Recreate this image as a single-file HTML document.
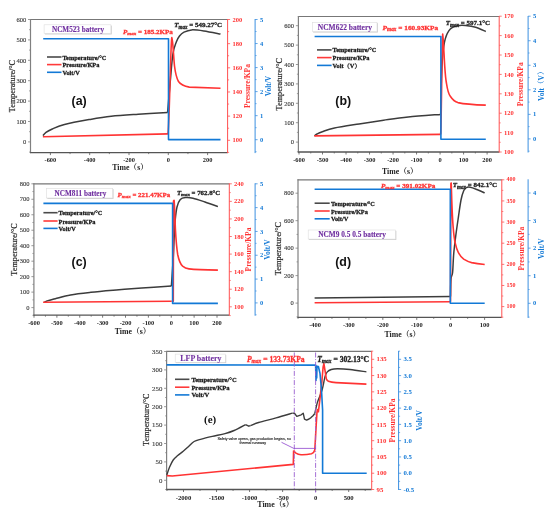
<!DOCTYPE html>
<html><head><meta charset="utf-8"><title>Battery thermal runaway</title>
<style>
html,body{margin:0;padding:0;background:#fff;}
body{width:550px;height:512px;overflow:hidden;}
svg{display:block;filter:blur(0.35px);}
</style></head>
<body>
<svg width="550" height="512" viewBox="0 0 550 512">
<rect x="0" y="0" width="550" height="512" fill="#fff"/>
<line x1="30" y1="19.5" x2="227.6" y2="19.5" stroke="#777" stroke-width="1.2"/>
<line x1="30.5" y1="19" x2="30.5" y2="153.1" stroke="#808080" stroke-width="1.2"/>
<line x1="30" y1="152.6" x2="227.6" y2="152.6" stroke="#555" stroke-width="1.3"/>
<line x1="227.6" y1="19" x2="227.6" y2="153.1" stroke="#ff5050" stroke-width="1"/>
<line x1="255.1" y1="19" x2="255.1" y2="153.1" stroke="#3b8fe0" stroke-width="1"/>
<line x1="28" y1="141.9" x2="30.5" y2="141.9" stroke="#808080" stroke-width="0.8"/>
<text x="26.2" y="141.6" font-size="6.5" fill="#444" text-anchor="end" font-weight="normal" font-family="'Liberation Serif', 'Noto Serif CJK SC', serif" font-style="normal" dominant-baseline="central" stroke="#444" stroke-width="0.15">0</text>
<line x1="28" y1="121.5" x2="30.5" y2="121.5" stroke="#808080" stroke-width="0.8"/>
<text x="26.2" y="121.2" font-size="6.5" fill="#444" text-anchor="end" font-weight="normal" font-family="'Liberation Serif', 'Noto Serif CJK SC', serif" font-style="normal" dominant-baseline="central" stroke="#444" stroke-width="0.15">100</text>
<line x1="28" y1="101.1" x2="30.5" y2="101.1" stroke="#808080" stroke-width="0.8"/>
<text x="26.2" y="100.8" font-size="6.5" fill="#444" text-anchor="end" font-weight="normal" font-family="'Liberation Serif', 'Noto Serif CJK SC', serif" font-style="normal" dominant-baseline="central" stroke="#444" stroke-width="0.15">200</text>
<line x1="28" y1="80.7" x2="30.5" y2="80.7" stroke="#808080" stroke-width="0.8"/>
<text x="26.2" y="80.4" font-size="6.5" fill="#444" text-anchor="end" font-weight="normal" font-family="'Liberation Serif', 'Noto Serif CJK SC', serif" font-style="normal" dominant-baseline="central" stroke="#444" stroke-width="0.15">300</text>
<line x1="28" y1="60.3" x2="30.5" y2="60.3" stroke="#808080" stroke-width="0.8"/>
<text x="26.2" y="60" font-size="6.5" fill="#444" text-anchor="end" font-weight="normal" font-family="'Liberation Serif', 'Noto Serif CJK SC', serif" font-style="normal" dominant-baseline="central" stroke="#444" stroke-width="0.15">400</text>
<line x1="28" y1="39.9" x2="30.5" y2="39.9" stroke="#808080" stroke-width="0.8"/>
<text x="26.2" y="39.6" font-size="6.5" fill="#444" text-anchor="end" font-weight="normal" font-family="'Liberation Serif', 'Noto Serif CJK SC', serif" font-style="normal" dominant-baseline="central" stroke="#444" stroke-width="0.15">500</text>
<line x1="28" y1="19.5" x2="30.5" y2="19.5" stroke="#808080" stroke-width="0.8"/>
<text x="26.2" y="19.2" font-size="6.5" fill="#444" text-anchor="end" font-weight="normal" font-family="'Liberation Serif', 'Noto Serif CJK SC', serif" font-style="normal" dominant-baseline="central" stroke="#444" stroke-width="0.15">600</text>
<line x1="29" y1="131.7" x2="30.5" y2="131.7" stroke="#808080" stroke-width="0.7"/>
<line x1="29" y1="111.3" x2="30.5" y2="111.3" stroke="#808080" stroke-width="0.7"/>
<line x1="29" y1="90.9" x2="30.5" y2="90.9" stroke="#808080" stroke-width="0.7"/>
<line x1="29" y1="70.5" x2="30.5" y2="70.5" stroke="#808080" stroke-width="0.7"/>
<line x1="29" y1="50.1" x2="30.5" y2="50.1" stroke="#808080" stroke-width="0.7"/>
<line x1="29" y1="29.7" x2="30.5" y2="29.7" stroke="#808080" stroke-width="0.7"/>
<line x1="29" y1="152.1" x2="30.5" y2="152.1" stroke="#808080" stroke-width="0.7"/>
<line x1="50.4" y1="152.6" x2="50.4" y2="155.1" stroke="#555" stroke-width="0.8"/>
<text x="50.4" y="159.9" font-size="6.4" fill="#222" text-anchor="middle" font-weight="bold" font-family="'Liberation Serif', 'Noto Serif CJK SC', serif" font-style="normal" dominant-baseline="central">-600</text>
<line x1="89.7" y1="152.6" x2="89.7" y2="155.1" stroke="#555" stroke-width="0.8"/>
<text x="89.7" y="159.9" font-size="6.4" fill="#222" text-anchor="middle" font-weight="bold" font-family="'Liberation Serif', 'Noto Serif CJK SC', serif" font-style="normal" dominant-baseline="central">-400</text>
<line x1="129" y1="152.6" x2="129" y2="155.1" stroke="#555" stroke-width="0.8"/>
<text x="129" y="159.9" font-size="6.4" fill="#222" text-anchor="middle" font-weight="bold" font-family="'Liberation Serif', 'Noto Serif CJK SC', serif" font-style="normal" dominant-baseline="central">-200</text>
<line x1="168.3" y1="152.6" x2="168.3" y2="155.1" stroke="#555" stroke-width="0.8"/>
<text x="168.3" y="159.9" font-size="6.4" fill="#222" text-anchor="middle" font-weight="bold" font-family="'Liberation Serif', 'Noto Serif CJK SC', serif" font-style="normal" dominant-baseline="central">0</text>
<line x1="207.6" y1="152.6" x2="207.6" y2="155.1" stroke="#555" stroke-width="0.8"/>
<text x="207.6" y="159.9" font-size="6.4" fill="#222" text-anchor="middle" font-weight="bold" font-family="'Liberation Serif', 'Noto Serif CJK SC', serif" font-style="normal" dominant-baseline="central">200</text>
<line x1="70.05" y1="152.6" x2="70.05" y2="154.1" stroke="#555" stroke-width="0.7"/>
<line x1="109.35" y1="152.6" x2="109.35" y2="154.1" stroke="#555" stroke-width="0.7"/>
<line x1="148.65" y1="152.6" x2="148.65" y2="154.1" stroke="#555" stroke-width="0.7"/>
<line x1="187.95" y1="152.6" x2="187.95" y2="154.1" stroke="#555" stroke-width="0.7"/>
<line x1="227.6" y1="140.3" x2="230.1" y2="140.3" stroke="#ff5050" stroke-width="0.8"/>
<text x="232.4" y="139.9" font-size="6.5" fill="#ff3333" text-anchor="start" font-weight="bold" font-family="'Liberation Serif', 'Noto Serif CJK SC', serif" font-style="normal" dominant-baseline="central">100</text>
<line x1="227.6" y1="116.14" x2="230.1" y2="116.14" stroke="#ff5050" stroke-width="0.8"/>
<text x="232.4" y="115.74" font-size="6.5" fill="#ff3333" text-anchor="start" font-weight="bold" font-family="'Liberation Serif', 'Noto Serif CJK SC', serif" font-style="normal" dominant-baseline="central">120</text>
<line x1="227.6" y1="91.98" x2="230.1" y2="91.98" stroke="#ff5050" stroke-width="0.8"/>
<text x="232.4" y="91.58" font-size="6.5" fill="#ff3333" text-anchor="start" font-weight="bold" font-family="'Liberation Serif', 'Noto Serif CJK SC', serif" font-style="normal" dominant-baseline="central">140</text>
<line x1="227.6" y1="67.82" x2="230.1" y2="67.82" stroke="#ff5050" stroke-width="0.8"/>
<text x="232.4" y="67.42" font-size="6.5" fill="#ff3333" text-anchor="start" font-weight="bold" font-family="'Liberation Serif', 'Noto Serif CJK SC', serif" font-style="normal" dominant-baseline="central">160</text>
<line x1="227.6" y1="43.66" x2="230.1" y2="43.66" stroke="#ff5050" stroke-width="0.8"/>
<text x="232.4" y="43.26" font-size="6.5" fill="#ff3333" text-anchor="start" font-weight="bold" font-family="'Liberation Serif', 'Noto Serif CJK SC', serif" font-style="normal" dominant-baseline="central">180</text>
<line x1="227.6" y1="19.5" x2="230.1" y2="19.5" stroke="#ff5050" stroke-width="0.8"/>
<text x="232.4" y="19.1" font-size="6.5" fill="#ff3333" text-anchor="start" font-weight="bold" font-family="'Liberation Serif', 'Noto Serif CJK SC', serif" font-style="normal" dominant-baseline="central">200</text>
<line x1="227.6" y1="152.38" x2="229.1" y2="152.38" stroke="#ff5050" stroke-width="0.7"/>
<line x1="227.6" y1="128.22" x2="229.1" y2="128.22" stroke="#ff5050" stroke-width="0.7"/>
<line x1="227.6" y1="104.06" x2="229.1" y2="104.06" stroke="#ff5050" stroke-width="0.7"/>
<line x1="227.6" y1="79.9" x2="229.1" y2="79.9" stroke="#ff5050" stroke-width="0.7"/>
<line x1="227.6" y1="55.74" x2="229.1" y2="55.74" stroke="#ff5050" stroke-width="0.7"/>
<line x1="227.6" y1="31.58" x2="229.1" y2="31.58" stroke="#ff5050" stroke-width="0.7"/>
<line x1="255.1" y1="139.7" x2="257.6" y2="139.7" stroke="#3b8fe0" stroke-width="0.8"/>
<text x="259.9" y="139.3" font-size="6.5" fill="#1279d6" text-anchor="start" font-weight="bold" font-family="'Liberation Serif', 'Noto Serif CJK SC', serif" font-style="normal" dominant-baseline="central">0</text>
<line x1="255.1" y1="115.66" x2="257.6" y2="115.66" stroke="#3b8fe0" stroke-width="0.8"/>
<text x="259.9" y="115.26" font-size="6.5" fill="#1279d6" text-anchor="start" font-weight="bold" font-family="'Liberation Serif', 'Noto Serif CJK SC', serif" font-style="normal" dominant-baseline="central">1</text>
<line x1="255.1" y1="91.62" x2="257.6" y2="91.62" stroke="#3b8fe0" stroke-width="0.8"/>
<text x="259.9" y="91.22" font-size="6.5" fill="#1279d6" text-anchor="start" font-weight="bold" font-family="'Liberation Serif', 'Noto Serif CJK SC', serif" font-style="normal" dominant-baseline="central">2</text>
<line x1="255.1" y1="67.58" x2="257.6" y2="67.58" stroke="#3b8fe0" stroke-width="0.8"/>
<text x="259.9" y="67.18" font-size="6.5" fill="#1279d6" text-anchor="start" font-weight="bold" font-family="'Liberation Serif', 'Noto Serif CJK SC', serif" font-style="normal" dominant-baseline="central">3</text>
<line x1="255.1" y1="43.54" x2="257.6" y2="43.54" stroke="#3b8fe0" stroke-width="0.8"/>
<text x="259.9" y="43.14" font-size="6.5" fill="#1279d6" text-anchor="start" font-weight="bold" font-family="'Liberation Serif', 'Noto Serif CJK SC', serif" font-style="normal" dominant-baseline="central">4</text>
<line x1="255.1" y1="19.5" x2="257.6" y2="19.5" stroke="#3b8fe0" stroke-width="0.8"/>
<text x="259.9" y="19.1" font-size="6.5" fill="#1279d6" text-anchor="start" font-weight="bold" font-family="'Liberation Serif', 'Noto Serif CJK SC', serif" font-style="normal" dominant-baseline="central">5</text>
<line x1="255.1" y1="151.72" x2="256.6" y2="151.72" stroke="#3b8fe0" stroke-width="0.7"/>
<line x1="255.1" y1="127.68" x2="256.6" y2="127.68" stroke="#3b8fe0" stroke-width="0.7"/>
<line x1="255.1" y1="103.64" x2="256.6" y2="103.64" stroke="#3b8fe0" stroke-width="0.7"/>
<line x1="255.1" y1="79.6" x2="256.6" y2="79.6" stroke="#3b8fe0" stroke-width="0.7"/>
<line x1="255.1" y1="55.56" x2="256.6" y2="55.56" stroke="#3b8fe0" stroke-width="0.7"/>
<line x1="255.1" y1="31.52" x2="256.6" y2="31.52" stroke="#3b8fe0" stroke-width="0.7"/>
<text x="12.5" y="86.05" font-size="8.2" fill="#2a2a2a" text-anchor="middle" font-weight="normal" font-family="'Liberation Serif', 'Noto Serif CJK SC', serif" font-style="normal" dominant-baseline="central" transform="rotate(-90 12.5 86.05)" stroke="#2a2a2a" stroke-width="0.2">Temperature/°C</text>
<text x="247.5" y="86.05" font-size="7.5" fill="#ff3333" text-anchor="middle" font-weight="bold" font-family="'Liberation Serif', 'Noto Serif CJK SC', serif" font-style="normal" dominant-baseline="central" transform="rotate(-90 247.5 86.05)">Pressure/KPa</text>
<text x="268.5" y="86.05" font-size="7.5" fill="#1279d6" text-anchor="middle" font-weight="bold" font-family="'Liberation Serif', 'Noto Serif CJK SC', serif" font-style="normal" dominant-baseline="central" transform="rotate(-90 268.5 86.05)">Volt/V</text>
<text x="112.2" y="167.7" font-size="7.8" fill="#222" text-anchor="start" font-weight="bold" font-family="'Liberation Serif', 'Noto Serif CJK SC', serif" font-style="normal" dominant-baseline="central">Time（s）</text>
<line x1="297.9" y1="16.5" x2="499.2" y2="16.5" stroke="#777" stroke-width="1.2"/>
<line x1="298.4" y1="16" x2="298.4" y2="152.5" stroke="#808080" stroke-width="1.2"/>
<line x1="297.9" y1="152" x2="499.2" y2="152" stroke="#555" stroke-width="1.3"/>
<line x1="499.2" y1="16" x2="499.2" y2="152.5" stroke="#ff5050" stroke-width="1"/>
<line x1="528.1" y1="16" x2="528.1" y2="152.5" stroke="#3b8fe0" stroke-width="1"/>
<line x1="295.9" y1="142.1" x2="298.4" y2="142.1" stroke="#808080" stroke-width="0.8"/>
<text x="294.1" y="141.8" font-size="6.5" fill="#444" text-anchor="end" font-weight="normal" font-family="'Liberation Serif', 'Noto Serif CJK SC', serif" font-style="normal" dominant-baseline="central" stroke="#444" stroke-width="0.15">0</text>
<line x1="295.9" y1="122.7" x2="298.4" y2="122.7" stroke="#808080" stroke-width="0.8"/>
<text x="294.1" y="122.4" font-size="6.5" fill="#444" text-anchor="end" font-weight="normal" font-family="'Liberation Serif', 'Noto Serif CJK SC', serif" font-style="normal" dominant-baseline="central" stroke="#444" stroke-width="0.15">100</text>
<line x1="295.9" y1="103.3" x2="298.4" y2="103.3" stroke="#808080" stroke-width="0.8"/>
<text x="294.1" y="103" font-size="6.5" fill="#444" text-anchor="end" font-weight="normal" font-family="'Liberation Serif', 'Noto Serif CJK SC', serif" font-style="normal" dominant-baseline="central" stroke="#444" stroke-width="0.15">200</text>
<line x1="295.9" y1="83.9" x2="298.4" y2="83.9" stroke="#808080" stroke-width="0.8"/>
<text x="294.1" y="83.6" font-size="6.5" fill="#444" text-anchor="end" font-weight="normal" font-family="'Liberation Serif', 'Noto Serif CJK SC', serif" font-style="normal" dominant-baseline="central" stroke="#444" stroke-width="0.15">300</text>
<line x1="295.9" y1="64.5" x2="298.4" y2="64.5" stroke="#808080" stroke-width="0.8"/>
<text x="294.1" y="64.2" font-size="6.5" fill="#444" text-anchor="end" font-weight="normal" font-family="'Liberation Serif', 'Noto Serif CJK SC', serif" font-style="normal" dominant-baseline="central" stroke="#444" stroke-width="0.15">400</text>
<line x1="295.9" y1="45.1" x2="298.4" y2="45.1" stroke="#808080" stroke-width="0.8"/>
<text x="294.1" y="44.8" font-size="6.5" fill="#444" text-anchor="end" font-weight="normal" font-family="'Liberation Serif', 'Noto Serif CJK SC', serif" font-style="normal" dominant-baseline="central" stroke="#444" stroke-width="0.15">500</text>
<line x1="295.9" y1="25.7" x2="298.4" y2="25.7" stroke="#808080" stroke-width="0.8"/>
<text x="294.1" y="25.4" font-size="6.5" fill="#444" text-anchor="end" font-weight="normal" font-family="'Liberation Serif', 'Noto Serif CJK SC', serif" font-style="normal" dominant-baseline="central" stroke="#444" stroke-width="0.15">600</text>
<line x1="296.9" y1="151.8" x2="298.4" y2="151.8" stroke="#808080" stroke-width="0.7"/>
<line x1="296.9" y1="132.4" x2="298.4" y2="132.4" stroke="#808080" stroke-width="0.7"/>
<line x1="296.9" y1="113" x2="298.4" y2="113" stroke="#808080" stroke-width="0.7"/>
<line x1="296.9" y1="93.6" x2="298.4" y2="93.6" stroke="#808080" stroke-width="0.7"/>
<line x1="296.9" y1="74.2" x2="298.4" y2="74.2" stroke="#808080" stroke-width="0.7"/>
<line x1="296.9" y1="54.8" x2="298.4" y2="54.8" stroke="#808080" stroke-width="0.7"/>
<line x1="296.9" y1="35.4" x2="298.4" y2="35.4" stroke="#808080" stroke-width="0.7"/>
<line x1="299" y1="152" x2="299" y2="154.5" stroke="#555" stroke-width="0.8"/>
<text x="299" y="159.3" font-size="6.4" fill="#222" text-anchor="middle" font-weight="bold" font-family="'Liberation Serif', 'Noto Serif CJK SC', serif" font-style="normal" dominant-baseline="central">-600</text>
<line x1="322.51" y1="152" x2="322.51" y2="154.5" stroke="#555" stroke-width="0.8"/>
<text x="322.51" y="159.3" font-size="6.4" fill="#222" text-anchor="middle" font-weight="bold" font-family="'Liberation Serif', 'Noto Serif CJK SC', serif" font-style="normal" dominant-baseline="central">-500</text>
<line x1="346.02" y1="152" x2="346.02" y2="154.5" stroke="#555" stroke-width="0.8"/>
<text x="346.02" y="159.3" font-size="6.4" fill="#222" text-anchor="middle" font-weight="bold" font-family="'Liberation Serif', 'Noto Serif CJK SC', serif" font-style="normal" dominant-baseline="central">-400</text>
<line x1="369.54" y1="152" x2="369.54" y2="154.5" stroke="#555" stroke-width="0.8"/>
<text x="369.54" y="159.3" font-size="6.4" fill="#222" text-anchor="middle" font-weight="bold" font-family="'Liberation Serif', 'Noto Serif CJK SC', serif" font-style="normal" dominant-baseline="central">-300</text>
<line x1="393.05" y1="152" x2="393.05" y2="154.5" stroke="#555" stroke-width="0.8"/>
<text x="393.05" y="159.3" font-size="6.4" fill="#222" text-anchor="middle" font-weight="bold" font-family="'Liberation Serif', 'Noto Serif CJK SC', serif" font-style="normal" dominant-baseline="central">-200</text>
<line x1="416.56" y1="152" x2="416.56" y2="154.5" stroke="#555" stroke-width="0.8"/>
<text x="416.56" y="159.3" font-size="6.4" fill="#222" text-anchor="middle" font-weight="bold" font-family="'Liberation Serif', 'Noto Serif CJK SC', serif" font-style="normal" dominant-baseline="central">-100</text>
<line x1="440.08" y1="152" x2="440.08" y2="154.5" stroke="#555" stroke-width="0.8"/>
<text x="440.08" y="159.3" font-size="6.4" fill="#222" text-anchor="middle" font-weight="bold" font-family="'Liberation Serif', 'Noto Serif CJK SC', serif" font-style="normal" dominant-baseline="central">0</text>
<line x1="463.59" y1="152" x2="463.59" y2="154.5" stroke="#555" stroke-width="0.8"/>
<text x="463.59" y="159.3" font-size="6.4" fill="#222" text-anchor="middle" font-weight="bold" font-family="'Liberation Serif', 'Noto Serif CJK SC', serif" font-style="normal" dominant-baseline="central">100</text>
<line x1="487.1" y1="152" x2="487.1" y2="154.5" stroke="#555" stroke-width="0.8"/>
<text x="487.1" y="159.3" font-size="6.4" fill="#222" text-anchor="middle" font-weight="bold" font-family="'Liberation Serif', 'Noto Serif CJK SC', serif" font-style="normal" dominant-baseline="central">200</text>
<line x1="310.76" y1="152" x2="310.76" y2="153.5" stroke="#555" stroke-width="0.7"/>
<line x1="334.27" y1="152" x2="334.27" y2="153.5" stroke="#555" stroke-width="0.7"/>
<line x1="357.78" y1="152" x2="357.78" y2="153.5" stroke="#555" stroke-width="0.7"/>
<line x1="381.29" y1="152" x2="381.29" y2="153.5" stroke="#555" stroke-width="0.7"/>
<line x1="404.81" y1="152" x2="404.81" y2="153.5" stroke="#555" stroke-width="0.7"/>
<line x1="428.32" y1="152" x2="428.32" y2="153.5" stroke="#555" stroke-width="0.7"/>
<line x1="451.83" y1="152" x2="451.83" y2="153.5" stroke="#555" stroke-width="0.7"/>
<line x1="475.34" y1="152" x2="475.34" y2="153.5" stroke="#555" stroke-width="0.7"/>
<line x1="499.2" y1="152" x2="501.7" y2="152" stroke="#ff5050" stroke-width="0.8"/>
<text x="504" y="151.6" font-size="6.5" fill="#ff3333" text-anchor="start" font-weight="bold" font-family="'Liberation Serif', 'Noto Serif CJK SC', serif" font-style="normal" dominant-baseline="central">100</text>
<line x1="499.2" y1="132.6" x2="501.7" y2="132.6" stroke="#ff5050" stroke-width="0.8"/>
<text x="504" y="132.2" font-size="6.5" fill="#ff3333" text-anchor="start" font-weight="bold" font-family="'Liberation Serif', 'Noto Serif CJK SC', serif" font-style="normal" dominant-baseline="central">110</text>
<line x1="499.2" y1="113.2" x2="501.7" y2="113.2" stroke="#ff5050" stroke-width="0.8"/>
<text x="504" y="112.8" font-size="6.5" fill="#ff3333" text-anchor="start" font-weight="bold" font-family="'Liberation Serif', 'Noto Serif CJK SC', serif" font-style="normal" dominant-baseline="central">120</text>
<line x1="499.2" y1="93.8" x2="501.7" y2="93.8" stroke="#ff5050" stroke-width="0.8"/>
<text x="504" y="93.4" font-size="6.5" fill="#ff3333" text-anchor="start" font-weight="bold" font-family="'Liberation Serif', 'Noto Serif CJK SC', serif" font-style="normal" dominant-baseline="central">130</text>
<line x1="499.2" y1="74.4" x2="501.7" y2="74.4" stroke="#ff5050" stroke-width="0.8"/>
<text x="504" y="74" font-size="6.5" fill="#ff3333" text-anchor="start" font-weight="bold" font-family="'Liberation Serif', 'Noto Serif CJK SC', serif" font-style="normal" dominant-baseline="central">140</text>
<line x1="499.2" y1="55" x2="501.7" y2="55" stroke="#ff5050" stroke-width="0.8"/>
<text x="504" y="54.6" font-size="6.5" fill="#ff3333" text-anchor="start" font-weight="bold" font-family="'Liberation Serif', 'Noto Serif CJK SC', serif" font-style="normal" dominant-baseline="central">150</text>
<line x1="499.2" y1="35.6" x2="501.7" y2="35.6" stroke="#ff5050" stroke-width="0.8"/>
<text x="504" y="35.2" font-size="6.5" fill="#ff3333" text-anchor="start" font-weight="bold" font-family="'Liberation Serif', 'Noto Serif CJK SC', serif" font-style="normal" dominant-baseline="central">160</text>
<line x1="499.2" y1="16.2" x2="501.7" y2="16.2" stroke="#ff5050" stroke-width="0.8"/>
<text x="504" y="15.8" font-size="6.5" fill="#ff3333" text-anchor="start" font-weight="bold" font-family="'Liberation Serif', 'Noto Serif CJK SC', serif" font-style="normal" dominant-baseline="central">170</text>
<line x1="499.2" y1="142.3" x2="500.7" y2="142.3" stroke="#ff5050" stroke-width="0.7"/>
<line x1="499.2" y1="122.9" x2="500.7" y2="122.9" stroke="#ff5050" stroke-width="0.7"/>
<line x1="499.2" y1="103.5" x2="500.7" y2="103.5" stroke="#ff5050" stroke-width="0.7"/>
<line x1="499.2" y1="84.1" x2="500.7" y2="84.1" stroke="#ff5050" stroke-width="0.7"/>
<line x1="499.2" y1="64.7" x2="500.7" y2="64.7" stroke="#ff5050" stroke-width="0.7"/>
<line x1="499.2" y1="45.3" x2="500.7" y2="45.3" stroke="#ff5050" stroke-width="0.7"/>
<line x1="499.2" y1="25.9" x2="500.7" y2="25.9" stroke="#ff5050" stroke-width="0.7"/>
<line x1="528.1" y1="138.9" x2="530.6" y2="138.9" stroke="#3b8fe0" stroke-width="0.8"/>
<text x="532.9" y="138.5" font-size="6.5" fill="#1279d6" text-anchor="start" font-weight="bold" font-family="'Liberation Serif', 'Noto Serif CJK SC', serif" font-style="normal" dominant-baseline="central">0</text>
<line x1="528.1" y1="114.36" x2="530.6" y2="114.36" stroke="#3b8fe0" stroke-width="0.8"/>
<text x="532.9" y="113.96" font-size="6.5" fill="#1279d6" text-anchor="start" font-weight="bold" font-family="'Liberation Serif', 'Noto Serif CJK SC', serif" font-style="normal" dominant-baseline="central">1</text>
<line x1="528.1" y1="89.82" x2="530.6" y2="89.82" stroke="#3b8fe0" stroke-width="0.8"/>
<text x="532.9" y="89.42" font-size="6.5" fill="#1279d6" text-anchor="start" font-weight="bold" font-family="'Liberation Serif', 'Noto Serif CJK SC', serif" font-style="normal" dominant-baseline="central">2</text>
<line x1="528.1" y1="65.28" x2="530.6" y2="65.28" stroke="#3b8fe0" stroke-width="0.8"/>
<text x="532.9" y="64.88" font-size="6.5" fill="#1279d6" text-anchor="start" font-weight="bold" font-family="'Liberation Serif', 'Noto Serif CJK SC', serif" font-style="normal" dominant-baseline="central">3</text>
<line x1="528.1" y1="40.74" x2="530.6" y2="40.74" stroke="#3b8fe0" stroke-width="0.8"/>
<text x="532.9" y="40.34" font-size="6.5" fill="#1279d6" text-anchor="start" font-weight="bold" font-family="'Liberation Serif', 'Noto Serif CJK SC', serif" font-style="normal" dominant-baseline="central">4</text>
<line x1="528.1" y1="16.2" x2="530.6" y2="16.2" stroke="#3b8fe0" stroke-width="0.8"/>
<text x="532.9" y="15.8" font-size="6.5" fill="#1279d6" text-anchor="start" font-weight="bold" font-family="'Liberation Serif', 'Noto Serif CJK SC', serif" font-style="normal" dominant-baseline="central">5</text>
<line x1="528.1" y1="151.17" x2="529.6" y2="151.17" stroke="#3b8fe0" stroke-width="0.7"/>
<line x1="528.1" y1="126.63" x2="529.6" y2="126.63" stroke="#3b8fe0" stroke-width="0.7"/>
<line x1="528.1" y1="102.09" x2="529.6" y2="102.09" stroke="#3b8fe0" stroke-width="0.7"/>
<line x1="528.1" y1="77.55" x2="529.6" y2="77.55" stroke="#3b8fe0" stroke-width="0.7"/>
<line x1="528.1" y1="53.01" x2="529.6" y2="53.01" stroke="#3b8fe0" stroke-width="0.7"/>
<line x1="528.1" y1="28.47" x2="529.6" y2="28.47" stroke="#3b8fe0" stroke-width="0.7"/>
<text x="279.4" y="84.25" font-size="8.2" fill="#2a2a2a" text-anchor="middle" font-weight="normal" font-family="'Liberation Serif', 'Noto Serif CJK SC', serif" font-style="normal" dominant-baseline="central" transform="rotate(-90 279.4 84.25)" stroke="#2a2a2a" stroke-width="0.2">Temperature/°C</text>
<text x="520" y="84.25" font-size="7.5" fill="#ff3333" text-anchor="middle" font-weight="bold" font-family="'Liberation Serif', 'Noto Serif CJK SC', serif" font-style="normal" dominant-baseline="central" transform="rotate(-90 520 84.25)">Pressure/KPa</text>
<text x="541.8" y="84.25" font-size="7.5" fill="#1279d6" text-anchor="middle" font-weight="bold" font-family="'Liberation Serif', 'Noto Serif CJK SC', serif" font-style="normal" dominant-baseline="central" transform="rotate(-90 541.8 84.25)">Volt（V）</text>
<text x="382" y="171.2" font-size="7.8" fill="#222" text-anchor="start" font-weight="bold" font-family="'Liberation Serif', 'Noto Serif CJK SC', serif" font-style="normal" dominant-baseline="central">Time（s）</text>
<line x1="33.4" y1="183.8" x2="229.3" y2="183.8" stroke="#777" stroke-width="1.2"/>
<line x1="33.9" y1="183.3" x2="33.9" y2="315.7" stroke="#808080" stroke-width="1.2"/>
<line x1="33.4" y1="315.2" x2="229.3" y2="315.2" stroke="#555" stroke-width="1.3"/>
<line x1="229.3" y1="183.3" x2="229.3" y2="315.7" stroke="#ff5050" stroke-width="1"/>
<line x1="255.1" y1="183.3" x2="255.1" y2="315.7" stroke="#3b8fe0" stroke-width="1"/>
<line x1="31.4" y1="307.6" x2="33.9" y2="307.6" stroke="#808080" stroke-width="0.8"/>
<text x="29.6" y="307.3" font-size="6.5" fill="#444" text-anchor="end" font-weight="normal" font-family="'Liberation Serif', 'Noto Serif CJK SC', serif" font-style="normal" dominant-baseline="central" stroke="#444" stroke-width="0.15">0</text>
<line x1="31.4" y1="292.12" x2="33.9" y2="292.12" stroke="#808080" stroke-width="0.8"/>
<text x="29.6" y="291.82" font-size="6.5" fill="#444" text-anchor="end" font-weight="normal" font-family="'Liberation Serif', 'Noto Serif CJK SC', serif" font-style="normal" dominant-baseline="central" stroke="#444" stroke-width="0.15">100</text>
<line x1="31.4" y1="276.65" x2="33.9" y2="276.65" stroke="#808080" stroke-width="0.8"/>
<text x="29.6" y="276.35" font-size="6.5" fill="#444" text-anchor="end" font-weight="normal" font-family="'Liberation Serif', 'Noto Serif CJK SC', serif" font-style="normal" dominant-baseline="central" stroke="#444" stroke-width="0.15">200</text>
<line x1="31.4" y1="261.18" x2="33.9" y2="261.18" stroke="#808080" stroke-width="0.8"/>
<text x="29.6" y="260.88" font-size="6.5" fill="#444" text-anchor="end" font-weight="normal" font-family="'Liberation Serif', 'Noto Serif CJK SC', serif" font-style="normal" dominant-baseline="central" stroke="#444" stroke-width="0.15">300</text>
<line x1="31.4" y1="245.7" x2="33.9" y2="245.7" stroke="#808080" stroke-width="0.8"/>
<text x="29.6" y="245.4" font-size="6.5" fill="#444" text-anchor="end" font-weight="normal" font-family="'Liberation Serif', 'Noto Serif CJK SC', serif" font-style="normal" dominant-baseline="central" stroke="#444" stroke-width="0.15">400</text>
<line x1="31.4" y1="230.23" x2="33.9" y2="230.23" stroke="#808080" stroke-width="0.8"/>
<text x="29.6" y="229.93" font-size="6.5" fill="#444" text-anchor="end" font-weight="normal" font-family="'Liberation Serif', 'Noto Serif CJK SC', serif" font-style="normal" dominant-baseline="central" stroke="#444" stroke-width="0.15">500</text>
<line x1="31.4" y1="214.75" x2="33.9" y2="214.75" stroke="#808080" stroke-width="0.8"/>
<text x="29.6" y="214.45" font-size="6.5" fill="#444" text-anchor="end" font-weight="normal" font-family="'Liberation Serif', 'Noto Serif CJK SC', serif" font-style="normal" dominant-baseline="central" stroke="#444" stroke-width="0.15">600</text>
<line x1="31.4" y1="199.28" x2="33.9" y2="199.28" stroke="#808080" stroke-width="0.8"/>
<text x="29.6" y="198.97" font-size="6.5" fill="#444" text-anchor="end" font-weight="normal" font-family="'Liberation Serif', 'Noto Serif CJK SC', serif" font-style="normal" dominant-baseline="central" stroke="#444" stroke-width="0.15">700</text>
<line x1="31.4" y1="183.8" x2="33.9" y2="183.8" stroke="#808080" stroke-width="0.8"/>
<text x="29.6" y="183.5" font-size="6.5" fill="#444" text-anchor="end" font-weight="normal" font-family="'Liberation Serif', 'Noto Serif CJK SC', serif" font-style="normal" dominant-baseline="central" stroke="#444" stroke-width="0.15">800</text>
<line x1="32.4" y1="315.34" x2="33.9" y2="315.34" stroke="#808080" stroke-width="0.7"/>
<line x1="32.4" y1="299.86" x2="33.9" y2="299.86" stroke="#808080" stroke-width="0.7"/>
<line x1="32.4" y1="284.39" x2="33.9" y2="284.39" stroke="#808080" stroke-width="0.7"/>
<line x1="32.4" y1="268.91" x2="33.9" y2="268.91" stroke="#808080" stroke-width="0.7"/>
<line x1="32.4" y1="253.44" x2="33.9" y2="253.44" stroke="#808080" stroke-width="0.7"/>
<line x1="32.4" y1="237.96" x2="33.9" y2="237.96" stroke="#808080" stroke-width="0.7"/>
<line x1="32.4" y1="222.49" x2="33.9" y2="222.49" stroke="#808080" stroke-width="0.7"/>
<line x1="32.4" y1="207.01" x2="33.9" y2="207.01" stroke="#808080" stroke-width="0.7"/>
<line x1="32.4" y1="191.54" x2="33.9" y2="191.54" stroke="#808080" stroke-width="0.7"/>
<line x1="34" y1="315.2" x2="34" y2="317.7" stroke="#555" stroke-width="0.8"/>
<text x="34" y="322.5" font-size="6.4" fill="#222" text-anchor="middle" font-weight="bold" font-family="'Liberation Serif', 'Noto Serif CJK SC', serif" font-style="normal" dominant-baseline="central">-600</text>
<line x1="56.88" y1="315.2" x2="56.88" y2="317.7" stroke="#555" stroke-width="0.8"/>
<text x="56.88" y="322.5" font-size="6.4" fill="#222" text-anchor="middle" font-weight="bold" font-family="'Liberation Serif', 'Noto Serif CJK SC', serif" font-style="normal" dominant-baseline="central">-500</text>
<line x1="79.75" y1="315.2" x2="79.75" y2="317.7" stroke="#555" stroke-width="0.8"/>
<text x="79.75" y="322.5" font-size="6.4" fill="#222" text-anchor="middle" font-weight="bold" font-family="'Liberation Serif', 'Noto Serif CJK SC', serif" font-style="normal" dominant-baseline="central">-400</text>
<line x1="102.62" y1="315.2" x2="102.62" y2="317.7" stroke="#555" stroke-width="0.8"/>
<text x="102.62" y="322.5" font-size="6.4" fill="#222" text-anchor="middle" font-weight="bold" font-family="'Liberation Serif', 'Noto Serif CJK SC', serif" font-style="normal" dominant-baseline="central">-300</text>
<line x1="125.5" y1="315.2" x2="125.5" y2="317.7" stroke="#555" stroke-width="0.8"/>
<text x="125.5" y="322.5" font-size="6.4" fill="#222" text-anchor="middle" font-weight="bold" font-family="'Liberation Serif', 'Noto Serif CJK SC', serif" font-style="normal" dominant-baseline="central">-200</text>
<line x1="148.38" y1="315.2" x2="148.38" y2="317.7" stroke="#555" stroke-width="0.8"/>
<text x="148.38" y="322.5" font-size="6.4" fill="#222" text-anchor="middle" font-weight="bold" font-family="'Liberation Serif', 'Noto Serif CJK SC', serif" font-style="normal" dominant-baseline="central">-100</text>
<line x1="171.25" y1="315.2" x2="171.25" y2="317.7" stroke="#555" stroke-width="0.8"/>
<text x="171.25" y="322.5" font-size="6.4" fill="#222" text-anchor="middle" font-weight="bold" font-family="'Liberation Serif', 'Noto Serif CJK SC', serif" font-style="normal" dominant-baseline="central">0</text>
<line x1="194.12" y1="315.2" x2="194.12" y2="317.7" stroke="#555" stroke-width="0.8"/>
<text x="194.12" y="322.5" font-size="6.4" fill="#222" text-anchor="middle" font-weight="bold" font-family="'Liberation Serif', 'Noto Serif CJK SC', serif" font-style="normal" dominant-baseline="central">100</text>
<line x1="217" y1="315.2" x2="217" y2="317.7" stroke="#555" stroke-width="0.8"/>
<text x="217" y="322.5" font-size="6.4" fill="#222" text-anchor="middle" font-weight="bold" font-family="'Liberation Serif', 'Noto Serif CJK SC', serif" font-style="normal" dominant-baseline="central">200</text>
<line x1="45.44" y1="315.2" x2="45.44" y2="316.7" stroke="#555" stroke-width="0.7"/>
<line x1="68.31" y1="315.2" x2="68.31" y2="316.7" stroke="#555" stroke-width="0.7"/>
<line x1="91.19" y1="315.2" x2="91.19" y2="316.7" stroke="#555" stroke-width="0.7"/>
<line x1="114.06" y1="315.2" x2="114.06" y2="316.7" stroke="#555" stroke-width="0.7"/>
<line x1="136.94" y1="315.2" x2="136.94" y2="316.7" stroke="#555" stroke-width="0.7"/>
<line x1="159.81" y1="315.2" x2="159.81" y2="316.7" stroke="#555" stroke-width="0.7"/>
<line x1="182.69" y1="315.2" x2="182.69" y2="316.7" stroke="#555" stroke-width="0.7"/>
<line x1="205.56" y1="315.2" x2="205.56" y2="316.7" stroke="#555" stroke-width="0.7"/>
<line x1="229.3" y1="306.8" x2="231.8" y2="306.8" stroke="#ff5050" stroke-width="0.8"/>
<text x="234.1" y="306.4" font-size="6.5" fill="#ff3333" text-anchor="start" font-weight="bold" font-family="'Liberation Serif', 'Noto Serif CJK SC', serif" font-style="normal" dominant-baseline="central">100</text>
<line x1="229.3" y1="289.23" x2="231.8" y2="289.23" stroke="#ff5050" stroke-width="0.8"/>
<text x="234.1" y="288.83" font-size="6.5" fill="#ff3333" text-anchor="start" font-weight="bold" font-family="'Liberation Serif', 'Noto Serif CJK SC', serif" font-style="normal" dominant-baseline="central">120</text>
<line x1="229.3" y1="271.66" x2="231.8" y2="271.66" stroke="#ff5050" stroke-width="0.8"/>
<text x="234.1" y="271.26" font-size="6.5" fill="#ff3333" text-anchor="start" font-weight="bold" font-family="'Liberation Serif', 'Noto Serif CJK SC', serif" font-style="normal" dominant-baseline="central">140</text>
<line x1="229.3" y1="254.09" x2="231.8" y2="254.09" stroke="#ff5050" stroke-width="0.8"/>
<text x="234.1" y="253.69" font-size="6.5" fill="#ff3333" text-anchor="start" font-weight="bold" font-family="'Liberation Serif', 'Noto Serif CJK SC', serif" font-style="normal" dominant-baseline="central">160</text>
<line x1="229.3" y1="236.51" x2="231.8" y2="236.51" stroke="#ff5050" stroke-width="0.8"/>
<text x="234.1" y="236.11" font-size="6.5" fill="#ff3333" text-anchor="start" font-weight="bold" font-family="'Liberation Serif', 'Noto Serif CJK SC', serif" font-style="normal" dominant-baseline="central">180</text>
<line x1="229.3" y1="218.94" x2="231.8" y2="218.94" stroke="#ff5050" stroke-width="0.8"/>
<text x="234.1" y="218.54" font-size="6.5" fill="#ff3333" text-anchor="start" font-weight="bold" font-family="'Liberation Serif', 'Noto Serif CJK SC', serif" font-style="normal" dominant-baseline="central">200</text>
<line x1="229.3" y1="201.37" x2="231.8" y2="201.37" stroke="#ff5050" stroke-width="0.8"/>
<text x="234.1" y="200.97" font-size="6.5" fill="#ff3333" text-anchor="start" font-weight="bold" font-family="'Liberation Serif', 'Noto Serif CJK SC', serif" font-style="normal" dominant-baseline="central">220</text>
<line x1="229.3" y1="183.8" x2="231.8" y2="183.8" stroke="#ff5050" stroke-width="0.8"/>
<text x="234.1" y="183.4" font-size="6.5" fill="#ff3333" text-anchor="start" font-weight="bold" font-family="'Liberation Serif', 'Noto Serif CJK SC', serif" font-style="normal" dominant-baseline="central">240</text>
<line x1="229.3" y1="315.59" x2="230.8" y2="315.59" stroke="#ff5050" stroke-width="0.7"/>
<line x1="229.3" y1="298.01" x2="230.8" y2="298.01" stroke="#ff5050" stroke-width="0.7"/>
<line x1="229.3" y1="280.44" x2="230.8" y2="280.44" stroke="#ff5050" stroke-width="0.7"/>
<line x1="229.3" y1="262.87" x2="230.8" y2="262.87" stroke="#ff5050" stroke-width="0.7"/>
<line x1="229.3" y1="245.3" x2="230.8" y2="245.3" stroke="#ff5050" stroke-width="0.7"/>
<line x1="229.3" y1="227.73" x2="230.8" y2="227.73" stroke="#ff5050" stroke-width="0.7"/>
<line x1="229.3" y1="210.16" x2="230.8" y2="210.16" stroke="#ff5050" stroke-width="0.7"/>
<line x1="229.3" y1="192.59" x2="230.8" y2="192.59" stroke="#ff5050" stroke-width="0.7"/>
<line x1="255.1" y1="302.9" x2="257.6" y2="302.9" stroke="#3b8fe0" stroke-width="0.8"/>
<text x="259.9" y="302.5" font-size="6.5" fill="#1279d6" text-anchor="start" font-weight="bold" font-family="'Liberation Serif', 'Noto Serif CJK SC', serif" font-style="normal" dominant-baseline="central">0</text>
<line x1="255.1" y1="279.08" x2="257.6" y2="279.08" stroke="#3b8fe0" stroke-width="0.8"/>
<text x="259.9" y="278.68" font-size="6.5" fill="#1279d6" text-anchor="start" font-weight="bold" font-family="'Liberation Serif', 'Noto Serif CJK SC', serif" font-style="normal" dominant-baseline="central">1</text>
<line x1="255.1" y1="255.26" x2="257.6" y2="255.26" stroke="#3b8fe0" stroke-width="0.8"/>
<text x="259.9" y="254.86" font-size="6.5" fill="#1279d6" text-anchor="start" font-weight="bold" font-family="'Liberation Serif', 'Noto Serif CJK SC', serif" font-style="normal" dominant-baseline="central">2</text>
<line x1="255.1" y1="231.44" x2="257.6" y2="231.44" stroke="#3b8fe0" stroke-width="0.8"/>
<text x="259.9" y="231.04" font-size="6.5" fill="#1279d6" text-anchor="start" font-weight="bold" font-family="'Liberation Serif', 'Noto Serif CJK SC', serif" font-style="normal" dominant-baseline="central">3</text>
<line x1="255.1" y1="207.62" x2="257.6" y2="207.62" stroke="#3b8fe0" stroke-width="0.8"/>
<text x="259.9" y="207.22" font-size="6.5" fill="#1279d6" text-anchor="start" font-weight="bold" font-family="'Liberation Serif', 'Noto Serif CJK SC', serif" font-style="normal" dominant-baseline="central">4</text>
<line x1="255.1" y1="183.8" x2="257.6" y2="183.8" stroke="#3b8fe0" stroke-width="0.8"/>
<text x="259.9" y="183.4" font-size="6.5" fill="#1279d6" text-anchor="start" font-weight="bold" font-family="'Liberation Serif', 'Noto Serif CJK SC', serif" font-style="normal" dominant-baseline="central">5</text>
<line x1="255.1" y1="314.81" x2="256.6" y2="314.81" stroke="#3b8fe0" stroke-width="0.7"/>
<line x1="255.1" y1="290.99" x2="256.6" y2="290.99" stroke="#3b8fe0" stroke-width="0.7"/>
<line x1="255.1" y1="267.17" x2="256.6" y2="267.17" stroke="#3b8fe0" stroke-width="0.7"/>
<line x1="255.1" y1="243.35" x2="256.6" y2="243.35" stroke="#3b8fe0" stroke-width="0.7"/>
<line x1="255.1" y1="219.53" x2="256.6" y2="219.53" stroke="#3b8fe0" stroke-width="0.7"/>
<line x1="255.1" y1="195.71" x2="256.6" y2="195.71" stroke="#3b8fe0" stroke-width="0.7"/>
<text x="14.8" y="249.5" font-size="8.2" fill="#2a2a2a" text-anchor="middle" font-weight="normal" font-family="'Liberation Serif', 'Noto Serif CJK SC', serif" font-style="normal" dominant-baseline="central" transform="rotate(-90 14.8 249.5)" stroke="#2a2a2a" stroke-width="0.2">Temperature/°C</text>
<text x="248.2" y="249.5" font-size="7.5" fill="#ff3333" text-anchor="middle" font-weight="bold" font-family="'Liberation Serif', 'Noto Serif CJK SC', serif" font-style="normal" dominant-baseline="central" transform="rotate(-90 248.2 249.5)">Pressure/KPa</text>
<text x="267.8" y="249.5" font-size="7.5" fill="#1279d6" text-anchor="middle" font-weight="bold" font-family="'Liberation Serif', 'Noto Serif CJK SC', serif" font-style="normal" dominant-baseline="central" transform="rotate(-90 267.8 249.5)">Volt/V</text>
<text x="114.8" y="331" font-size="7.8" fill="#222" text-anchor="start" font-weight="bold" font-family="'Liberation Serif', 'Noto Serif CJK SC', serif" font-style="normal" dominant-baseline="central">Time（s）</text>
<line x1="297.5" y1="179.8" x2="501.8" y2="179.8" stroke="#777" stroke-width="1.2"/>
<line x1="298" y1="179.3" x2="298" y2="317.9" stroke="#808080" stroke-width="1.2"/>
<line x1="297.5" y1="317.4" x2="501.8" y2="317.4" stroke="#555" stroke-width="1.3"/>
<line x1="501.8" y1="179.3" x2="501.8" y2="317.9" stroke="#ff5050" stroke-width="1"/>
<line x1="528.1" y1="179.3" x2="528.1" y2="317.9" stroke="#3b8fe0" stroke-width="1"/>
<line x1="295.5" y1="303.1" x2="298" y2="303.1" stroke="#808080" stroke-width="0.8"/>
<text x="293.7" y="302.8" font-size="6.5" fill="#444" text-anchor="end" font-weight="normal" font-family="'Liberation Serif', 'Noto Serif CJK SC', serif" font-style="normal" dominant-baseline="central" stroke="#444" stroke-width="0.15">0</text>
<line x1="295.5" y1="275.62" x2="298" y2="275.62" stroke="#808080" stroke-width="0.8"/>
<text x="293.7" y="275.32" font-size="6.5" fill="#444" text-anchor="end" font-weight="normal" font-family="'Liberation Serif', 'Noto Serif CJK SC', serif" font-style="normal" dominant-baseline="central" stroke="#444" stroke-width="0.15">200</text>
<line x1="295.5" y1="248.15" x2="298" y2="248.15" stroke="#808080" stroke-width="0.8"/>
<text x="293.7" y="247.85" font-size="6.5" fill="#444" text-anchor="end" font-weight="normal" font-family="'Liberation Serif', 'Noto Serif CJK SC', serif" font-style="normal" dominant-baseline="central" stroke="#444" stroke-width="0.15">400</text>
<line x1="295.5" y1="220.68" x2="298" y2="220.68" stroke="#808080" stroke-width="0.8"/>
<text x="293.7" y="220.38" font-size="6.5" fill="#444" text-anchor="end" font-weight="normal" font-family="'Liberation Serif', 'Noto Serif CJK SC', serif" font-style="normal" dominant-baseline="central" stroke="#444" stroke-width="0.15">600</text>
<line x1="295.5" y1="193.2" x2="298" y2="193.2" stroke="#808080" stroke-width="0.8"/>
<text x="293.7" y="192.9" font-size="6.5" fill="#444" text-anchor="end" font-weight="normal" font-family="'Liberation Serif', 'Noto Serif CJK SC', serif" font-style="normal" dominant-baseline="central" stroke="#444" stroke-width="0.15">800</text>
<line x1="296.5" y1="316.84" x2="298" y2="316.84" stroke="#808080" stroke-width="0.7"/>
<line x1="296.5" y1="289.36" x2="298" y2="289.36" stroke="#808080" stroke-width="0.7"/>
<line x1="296.5" y1="261.89" x2="298" y2="261.89" stroke="#808080" stroke-width="0.7"/>
<line x1="296.5" y1="234.41" x2="298" y2="234.41" stroke="#808080" stroke-width="0.7"/>
<line x1="296.5" y1="206.94" x2="298" y2="206.94" stroke="#808080" stroke-width="0.7"/>
<line x1="315" y1="317.4" x2="315" y2="319.9" stroke="#555" stroke-width="0.8"/>
<text x="315" y="324.7" font-size="6.4" fill="#222" text-anchor="middle" font-weight="bold" font-family="'Liberation Serif', 'Noto Serif CJK SC', serif" font-style="normal" dominant-baseline="central">-400</text>
<line x1="348.92" y1="317.4" x2="348.92" y2="319.9" stroke="#555" stroke-width="0.8"/>
<text x="348.92" y="324.7" font-size="6.4" fill="#222" text-anchor="middle" font-weight="bold" font-family="'Liberation Serif', 'Noto Serif CJK SC', serif" font-style="normal" dominant-baseline="central">-300</text>
<line x1="382.84" y1="317.4" x2="382.84" y2="319.9" stroke="#555" stroke-width="0.8"/>
<text x="382.84" y="324.7" font-size="6.4" fill="#222" text-anchor="middle" font-weight="bold" font-family="'Liberation Serif', 'Noto Serif CJK SC', serif" font-style="normal" dominant-baseline="central">-200</text>
<line x1="416.76" y1="317.4" x2="416.76" y2="319.9" stroke="#555" stroke-width="0.8"/>
<text x="416.76" y="324.7" font-size="6.4" fill="#222" text-anchor="middle" font-weight="bold" font-family="'Liberation Serif', 'Noto Serif CJK SC', serif" font-style="normal" dominant-baseline="central">-100</text>
<line x1="450.68" y1="317.4" x2="450.68" y2="319.9" stroke="#555" stroke-width="0.8"/>
<text x="450.68" y="324.7" font-size="6.4" fill="#222" text-anchor="middle" font-weight="bold" font-family="'Liberation Serif', 'Noto Serif CJK SC', serif" font-style="normal" dominant-baseline="central">0</text>
<line x1="484.6" y1="317.4" x2="484.6" y2="319.9" stroke="#555" stroke-width="0.8"/>
<text x="484.6" y="324.7" font-size="6.4" fill="#222" text-anchor="middle" font-weight="bold" font-family="'Liberation Serif', 'Noto Serif CJK SC', serif" font-style="normal" dominant-baseline="central">100</text>
<line x1="298.04" y1="317.4" x2="298.04" y2="318.9" stroke="#555" stroke-width="0.7"/>
<line x1="331.96" y1="317.4" x2="331.96" y2="318.9" stroke="#555" stroke-width="0.7"/>
<line x1="365.88" y1="317.4" x2="365.88" y2="318.9" stroke="#555" stroke-width="0.7"/>
<line x1="399.8" y1="317.4" x2="399.8" y2="318.9" stroke="#555" stroke-width="0.7"/>
<line x1="433.72" y1="317.4" x2="433.72" y2="318.9" stroke="#555" stroke-width="0.7"/>
<line x1="467.64" y1="317.4" x2="467.64" y2="318.9" stroke="#555" stroke-width="0.7"/>
<line x1="501.8" y1="306.6" x2="504.3" y2="306.6" stroke="#ff5050" stroke-width="0.8"/>
<text x="506.6" y="306.2" font-size="6" fill="#ff3333" text-anchor="start" font-weight="bold" font-family="'Liberation Serif', 'Noto Serif CJK SC', serif" font-style="normal" dominant-baseline="central">100</text>
<line x1="501.8" y1="285.47" x2="504.3" y2="285.47" stroke="#ff5050" stroke-width="0.8"/>
<text x="506.6" y="285.07" font-size="6" fill="#ff3333" text-anchor="start" font-weight="bold" font-family="'Liberation Serif', 'Noto Serif CJK SC', serif" font-style="normal" dominant-baseline="central">150</text>
<line x1="501.8" y1="264.33" x2="504.3" y2="264.33" stroke="#ff5050" stroke-width="0.8"/>
<text x="506.6" y="263.93" font-size="6" fill="#ff3333" text-anchor="start" font-weight="bold" font-family="'Liberation Serif', 'Noto Serif CJK SC', serif" font-style="normal" dominant-baseline="central">200</text>
<line x1="501.8" y1="243.2" x2="504.3" y2="243.2" stroke="#ff5050" stroke-width="0.8"/>
<text x="506.6" y="242.8" font-size="6" fill="#ff3333" text-anchor="start" font-weight="bold" font-family="'Liberation Serif', 'Noto Serif CJK SC', serif" font-style="normal" dominant-baseline="central">250</text>
<line x1="501.8" y1="222.07" x2="504.3" y2="222.07" stroke="#ff5050" stroke-width="0.8"/>
<text x="506.6" y="221.67" font-size="6" fill="#ff3333" text-anchor="start" font-weight="bold" font-family="'Liberation Serif', 'Noto Serif CJK SC', serif" font-style="normal" dominant-baseline="central">300</text>
<line x1="501.8" y1="200.93" x2="504.3" y2="200.93" stroke="#ff5050" stroke-width="0.8"/>
<text x="506.6" y="200.53" font-size="6" fill="#ff3333" text-anchor="start" font-weight="bold" font-family="'Liberation Serif', 'Noto Serif CJK SC', serif" font-style="normal" dominant-baseline="central">350</text>
<line x1="501.8" y1="179.8" x2="504.3" y2="179.8" stroke="#ff5050" stroke-width="0.8"/>
<text x="506.6" y="179.4" font-size="6" fill="#ff3333" text-anchor="start" font-weight="bold" font-family="'Liberation Serif', 'Noto Serif CJK SC', serif" font-style="normal" dominant-baseline="central">400</text>
<line x1="501.8" y1="317.17" x2="503.3" y2="317.17" stroke="#ff5050" stroke-width="0.7"/>
<line x1="501.8" y1="296.03" x2="503.3" y2="296.03" stroke="#ff5050" stroke-width="0.7"/>
<line x1="501.8" y1="274.9" x2="503.3" y2="274.9" stroke="#ff5050" stroke-width="0.7"/>
<line x1="501.8" y1="253.77" x2="503.3" y2="253.77" stroke="#ff5050" stroke-width="0.7"/>
<line x1="501.8" y1="232.63" x2="503.3" y2="232.63" stroke="#ff5050" stroke-width="0.7"/>
<line x1="501.8" y1="211.5" x2="503.3" y2="211.5" stroke="#ff5050" stroke-width="0.7"/>
<line x1="501.8" y1="190.37" x2="503.3" y2="190.37" stroke="#ff5050" stroke-width="0.7"/>
<line x1="528.1" y1="303.3" x2="530.6" y2="303.3" stroke="#3b8fe0" stroke-width="0.8"/>
<text x="532.9" y="302.9" font-size="6.5" fill="#1279d6" text-anchor="start" font-weight="bold" font-family="'Liberation Serif', 'Noto Serif CJK SC', serif" font-style="normal" dominant-baseline="central">0</text>
<line x1="528.1" y1="275.73" x2="530.6" y2="275.73" stroke="#3b8fe0" stroke-width="0.8"/>
<text x="532.9" y="275.33" font-size="6.5" fill="#1279d6" text-anchor="start" font-weight="bold" font-family="'Liberation Serif', 'Noto Serif CJK SC', serif" font-style="normal" dominant-baseline="central">1</text>
<line x1="528.1" y1="248.15" x2="530.6" y2="248.15" stroke="#3b8fe0" stroke-width="0.8"/>
<text x="532.9" y="247.75" font-size="6.5" fill="#1279d6" text-anchor="start" font-weight="bold" font-family="'Liberation Serif', 'Noto Serif CJK SC', serif" font-style="normal" dominant-baseline="central">2</text>
<line x1="528.1" y1="220.57" x2="530.6" y2="220.57" stroke="#3b8fe0" stroke-width="0.8"/>
<text x="532.9" y="220.17" font-size="6.5" fill="#1279d6" text-anchor="start" font-weight="bold" font-family="'Liberation Serif', 'Noto Serif CJK SC', serif" font-style="normal" dominant-baseline="central">3</text>
<line x1="528.1" y1="193" x2="530.6" y2="193" stroke="#3b8fe0" stroke-width="0.8"/>
<text x="532.9" y="192.6" font-size="6.5" fill="#1279d6" text-anchor="start" font-weight="bold" font-family="'Liberation Serif', 'Noto Serif CJK SC', serif" font-style="normal" dominant-baseline="central">4</text>
<line x1="528.1" y1="317.09" x2="529.6" y2="317.09" stroke="#3b8fe0" stroke-width="0.7"/>
<line x1="528.1" y1="289.51" x2="529.6" y2="289.51" stroke="#3b8fe0" stroke-width="0.7"/>
<line x1="528.1" y1="261.94" x2="529.6" y2="261.94" stroke="#3b8fe0" stroke-width="0.7"/>
<line x1="528.1" y1="234.36" x2="529.6" y2="234.36" stroke="#3b8fe0" stroke-width="0.7"/>
<line x1="528.1" y1="206.79" x2="529.6" y2="206.79" stroke="#3b8fe0" stroke-width="0.7"/>
<text x="278.6" y="248.6" font-size="8.4" fill="#2a2a2a" text-anchor="middle" font-weight="normal" font-family="'Liberation Serif', 'Noto Serif CJK SC', serif" font-style="normal" dominant-baseline="central" transform="rotate(-90 278.6 248.6)" stroke="#2a2a2a" stroke-width="0.2">Temperature/°C</text>
<text x="521.9" y="248.6" font-size="7.5" fill="#ff3333" text-anchor="middle" font-weight="bold" font-family="'Liberation Serif', 'Noto Serif CJK SC', serif" font-style="normal" dominant-baseline="central" transform="rotate(-90 521.9 248.6)">Pressure/KPa</text>
<text x="541.8" y="248.6" font-size="7.5" fill="#1279d6" text-anchor="middle" font-weight="bold" font-family="'Liberation Serif', 'Noto Serif CJK SC', serif" font-style="normal" dominant-baseline="central" transform="rotate(-90 541.8 248.6)">Volt/V</text>
<text x="384.5" y="334.2" font-size="7.8" fill="#222" text-anchor="start" font-weight="bold" font-family="'Liberation Serif', 'Noto Serif CJK SC', serif" font-style="normal" dominant-baseline="central">Time（s）</text>
<line x1="166.1" y1="351.4" x2="371.7" y2="351.4" stroke="#777" stroke-width="1.2"/>
<line x1="166.6" y1="350.9" x2="166.6" y2="490" stroke="#808080" stroke-width="1.2"/>
<line x1="166.1" y1="489.5" x2="371.7" y2="489.5" stroke="#555" stroke-width="1.3"/>
<line x1="371.7" y1="350.9" x2="371.7" y2="490" stroke="#ff5050" stroke-width="1"/>
<line x1="398.6" y1="350.9" x2="398.6" y2="490" stroke="#3b8fe0" stroke-width="1"/>
<line x1="164.1" y1="480.3" x2="166.6" y2="480.3" stroke="#808080" stroke-width="0.8"/>
<text x="162.3" y="480" font-size="6.8" fill="#444" text-anchor="end" font-weight="normal" font-family="'Liberation Serif', 'Noto Serif CJK SC', serif" font-style="normal" dominant-baseline="central" stroke="#444" stroke-width="0.15">0</text>
<line x1="164.1" y1="461.9" x2="166.6" y2="461.9" stroke="#808080" stroke-width="0.8"/>
<text x="162.3" y="461.6" font-size="6.8" fill="#444" text-anchor="end" font-weight="normal" font-family="'Liberation Serif', 'Noto Serif CJK SC', serif" font-style="normal" dominant-baseline="central" stroke="#444" stroke-width="0.15">50</text>
<line x1="164.1" y1="443.5" x2="166.6" y2="443.5" stroke="#808080" stroke-width="0.8"/>
<text x="162.3" y="443.2" font-size="6.8" fill="#444" text-anchor="end" font-weight="normal" font-family="'Liberation Serif', 'Noto Serif CJK SC', serif" font-style="normal" dominant-baseline="central" stroke="#444" stroke-width="0.15">100</text>
<line x1="164.1" y1="425.1" x2="166.6" y2="425.1" stroke="#808080" stroke-width="0.8"/>
<text x="162.3" y="424.8" font-size="6.8" fill="#444" text-anchor="end" font-weight="normal" font-family="'Liberation Serif', 'Noto Serif CJK SC', serif" font-style="normal" dominant-baseline="central" stroke="#444" stroke-width="0.15">150</text>
<line x1="164.1" y1="406.7" x2="166.6" y2="406.7" stroke="#808080" stroke-width="0.8"/>
<text x="162.3" y="406.4" font-size="6.8" fill="#444" text-anchor="end" font-weight="normal" font-family="'Liberation Serif', 'Noto Serif CJK SC', serif" font-style="normal" dominant-baseline="central" stroke="#444" stroke-width="0.15">200</text>
<line x1="164.1" y1="388.3" x2="166.6" y2="388.3" stroke="#808080" stroke-width="0.8"/>
<text x="162.3" y="388" font-size="6.8" fill="#444" text-anchor="end" font-weight="normal" font-family="'Liberation Serif', 'Noto Serif CJK SC', serif" font-style="normal" dominant-baseline="central" stroke="#444" stroke-width="0.15">250</text>
<line x1="164.1" y1="369.9" x2="166.6" y2="369.9" stroke="#808080" stroke-width="0.8"/>
<text x="162.3" y="369.6" font-size="6.8" fill="#444" text-anchor="end" font-weight="normal" font-family="'Liberation Serif', 'Noto Serif CJK SC', serif" font-style="normal" dominant-baseline="central" stroke="#444" stroke-width="0.15">300</text>
<line x1="164.1" y1="351.5" x2="166.6" y2="351.5" stroke="#808080" stroke-width="0.8"/>
<text x="162.3" y="351.2" font-size="6.8" fill="#444" text-anchor="end" font-weight="normal" font-family="'Liberation Serif', 'Noto Serif CJK SC', serif" font-style="normal" dominant-baseline="central" stroke="#444" stroke-width="0.15">350</text>
<line x1="165.1" y1="489.5" x2="166.6" y2="489.5" stroke="#808080" stroke-width="0.7"/>
<line x1="165.1" y1="471.1" x2="166.6" y2="471.1" stroke="#808080" stroke-width="0.7"/>
<line x1="165.1" y1="452.7" x2="166.6" y2="452.7" stroke="#808080" stroke-width="0.7"/>
<line x1="165.1" y1="434.3" x2="166.6" y2="434.3" stroke="#808080" stroke-width="0.7"/>
<line x1="165.1" y1="415.9" x2="166.6" y2="415.9" stroke="#808080" stroke-width="0.7"/>
<line x1="165.1" y1="397.5" x2="166.6" y2="397.5" stroke="#808080" stroke-width="0.7"/>
<line x1="165.1" y1="379.1" x2="166.6" y2="379.1" stroke="#808080" stroke-width="0.7"/>
<line x1="165.1" y1="360.7" x2="166.6" y2="360.7" stroke="#808080" stroke-width="0.7"/>
<line x1="183.5" y1="489.5" x2="183.5" y2="492" stroke="#555" stroke-width="0.8"/>
<text x="183.5" y="497.4" font-size="6.7" fill="#222" text-anchor="middle" font-weight="bold" font-family="'Liberation Serif', 'Noto Serif CJK SC', serif" font-style="normal" dominant-baseline="central">-2000</text>
<line x1="216.54" y1="489.5" x2="216.54" y2="492" stroke="#555" stroke-width="0.8"/>
<text x="216.54" y="497.4" font-size="6.7" fill="#222" text-anchor="middle" font-weight="bold" font-family="'Liberation Serif', 'Noto Serif CJK SC', serif" font-style="normal" dominant-baseline="central">-1500</text>
<line x1="249.58" y1="489.5" x2="249.58" y2="492" stroke="#555" stroke-width="0.8"/>
<text x="249.58" y="497.4" font-size="6.7" fill="#222" text-anchor="middle" font-weight="bold" font-family="'Liberation Serif', 'Noto Serif CJK SC', serif" font-style="normal" dominant-baseline="central">-1000</text>
<line x1="282.62" y1="489.5" x2="282.62" y2="492" stroke="#555" stroke-width="0.8"/>
<text x="282.62" y="497.4" font-size="6.7" fill="#222" text-anchor="middle" font-weight="bold" font-family="'Liberation Serif', 'Noto Serif CJK SC', serif" font-style="normal" dominant-baseline="central">-500</text>
<line x1="315.66" y1="489.5" x2="315.66" y2="492" stroke="#555" stroke-width="0.8"/>
<text x="315.66" y="497.4" font-size="6.7" fill="#222" text-anchor="middle" font-weight="bold" font-family="'Liberation Serif', 'Noto Serif CJK SC', serif" font-style="normal" dominant-baseline="central">0</text>
<line x1="348.7" y1="489.5" x2="348.7" y2="492" stroke="#555" stroke-width="0.8"/>
<text x="348.7" y="497.4" font-size="6.7" fill="#222" text-anchor="middle" font-weight="bold" font-family="'Liberation Serif', 'Noto Serif CJK SC', serif" font-style="normal" dominant-baseline="central">500</text>
<line x1="166.98" y1="489.5" x2="166.98" y2="491" stroke="#555" stroke-width="0.7"/>
<line x1="200.02" y1="489.5" x2="200.02" y2="491" stroke="#555" stroke-width="0.7"/>
<line x1="233.06" y1="489.5" x2="233.06" y2="491" stroke="#555" stroke-width="0.7"/>
<line x1="266.1" y1="489.5" x2="266.1" y2="491" stroke="#555" stroke-width="0.7"/>
<line x1="299.14" y1="489.5" x2="299.14" y2="491" stroke="#555" stroke-width="0.7"/>
<line x1="332.18" y1="489.5" x2="332.18" y2="491" stroke="#555" stroke-width="0.7"/>
<line x1="365.22" y1="489.5" x2="365.22" y2="491" stroke="#555" stroke-width="0.7"/>
<line x1="371.7" y1="489.5" x2="374.2" y2="489.5" stroke="#ff5050" stroke-width="0.8"/>
<text x="376.5" y="489.1" font-size="6.8" fill="#ff3333" text-anchor="start" font-weight="bold" font-family="'Liberation Serif', 'Noto Serif CJK SC', serif" font-style="normal" dominant-baseline="central">95</text>
<line x1="371.7" y1="473.23" x2="374.2" y2="473.23" stroke="#ff5050" stroke-width="0.8"/>
<text x="376.5" y="472.83" font-size="6.8" fill="#ff3333" text-anchor="start" font-weight="bold" font-family="'Liberation Serif', 'Noto Serif CJK SC', serif" font-style="normal" dominant-baseline="central">100</text>
<line x1="371.7" y1="456.95" x2="374.2" y2="456.95" stroke="#ff5050" stroke-width="0.8"/>
<text x="376.5" y="456.55" font-size="6.8" fill="#ff3333" text-anchor="start" font-weight="bold" font-family="'Liberation Serif', 'Noto Serif CJK SC', serif" font-style="normal" dominant-baseline="central">105</text>
<line x1="371.7" y1="440.68" x2="374.2" y2="440.68" stroke="#ff5050" stroke-width="0.8"/>
<text x="376.5" y="440.28" font-size="6.8" fill="#ff3333" text-anchor="start" font-weight="bold" font-family="'Liberation Serif', 'Noto Serif CJK SC', serif" font-style="normal" dominant-baseline="central">110</text>
<line x1="371.7" y1="424.4" x2="374.2" y2="424.4" stroke="#ff5050" stroke-width="0.8"/>
<text x="376.5" y="424" font-size="6.8" fill="#ff3333" text-anchor="start" font-weight="bold" font-family="'Liberation Serif', 'Noto Serif CJK SC', serif" font-style="normal" dominant-baseline="central">115</text>
<line x1="371.7" y1="408.12" x2="374.2" y2="408.12" stroke="#ff5050" stroke-width="0.8"/>
<text x="376.5" y="407.73" font-size="6.8" fill="#ff3333" text-anchor="start" font-weight="bold" font-family="'Liberation Serif', 'Noto Serif CJK SC', serif" font-style="normal" dominant-baseline="central">120</text>
<line x1="371.7" y1="391.85" x2="374.2" y2="391.85" stroke="#ff5050" stroke-width="0.8"/>
<text x="376.5" y="391.45" font-size="6.8" fill="#ff3333" text-anchor="start" font-weight="bold" font-family="'Liberation Serif', 'Noto Serif CJK SC', serif" font-style="normal" dominant-baseline="central">125</text>
<line x1="371.7" y1="375.57" x2="374.2" y2="375.57" stroke="#ff5050" stroke-width="0.8"/>
<text x="376.5" y="375.18" font-size="6.8" fill="#ff3333" text-anchor="start" font-weight="bold" font-family="'Liberation Serif', 'Noto Serif CJK SC', serif" font-style="normal" dominant-baseline="central">130</text>
<line x1="371.7" y1="359.3" x2="374.2" y2="359.3" stroke="#ff5050" stroke-width="0.8"/>
<text x="376.5" y="358.9" font-size="6.8" fill="#ff3333" text-anchor="start" font-weight="bold" font-family="'Liberation Serif', 'Noto Serif CJK SC', serif" font-style="normal" dominant-baseline="central">135</text>
<line x1="371.7" y1="481.36" x2="373.2" y2="481.36" stroke="#ff5050" stroke-width="0.7"/>
<line x1="371.7" y1="465.09" x2="373.2" y2="465.09" stroke="#ff5050" stroke-width="0.7"/>
<line x1="371.7" y1="448.81" x2="373.2" y2="448.81" stroke="#ff5050" stroke-width="0.7"/>
<line x1="371.7" y1="432.54" x2="373.2" y2="432.54" stroke="#ff5050" stroke-width="0.7"/>
<line x1="371.7" y1="416.26" x2="373.2" y2="416.26" stroke="#ff5050" stroke-width="0.7"/>
<line x1="371.7" y1="399.99" x2="373.2" y2="399.99" stroke="#ff5050" stroke-width="0.7"/>
<line x1="371.7" y1="383.71" x2="373.2" y2="383.71" stroke="#ff5050" stroke-width="0.7"/>
<line x1="371.7" y1="367.44" x2="373.2" y2="367.44" stroke="#ff5050" stroke-width="0.7"/>
<line x1="371.7" y1="351.16" x2="373.2" y2="351.16" stroke="#ff5050" stroke-width="0.7"/>
<line x1="398.6" y1="489.5" x2="401.1" y2="489.5" stroke="#3b8fe0" stroke-width="0.8"/>
<text x="403.4" y="489.1" font-size="6.8" fill="#1279d6" text-anchor="start" font-weight="bold" font-family="'Liberation Serif', 'Noto Serif CJK SC', serif" font-style="normal" dominant-baseline="central">-0.5</text>
<line x1="398.6" y1="473.23" x2="401.1" y2="473.23" stroke="#3b8fe0" stroke-width="0.8"/>
<text x="403.4" y="472.83" font-size="6.8" fill="#1279d6" text-anchor="start" font-weight="bold" font-family="'Liberation Serif', 'Noto Serif CJK SC', serif" font-style="normal" dominant-baseline="central">0.0</text>
<line x1="398.6" y1="456.95" x2="401.1" y2="456.95" stroke="#3b8fe0" stroke-width="0.8"/>
<text x="403.4" y="456.55" font-size="6.8" fill="#1279d6" text-anchor="start" font-weight="bold" font-family="'Liberation Serif', 'Noto Serif CJK SC', serif" font-style="normal" dominant-baseline="central">0.5</text>
<line x1="398.6" y1="440.68" x2="401.1" y2="440.68" stroke="#3b8fe0" stroke-width="0.8"/>
<text x="403.4" y="440.28" font-size="6.8" fill="#1279d6" text-anchor="start" font-weight="bold" font-family="'Liberation Serif', 'Noto Serif CJK SC', serif" font-style="normal" dominant-baseline="central">1.0</text>
<line x1="398.6" y1="424.4" x2="401.1" y2="424.4" stroke="#3b8fe0" stroke-width="0.8"/>
<text x="403.4" y="424" font-size="6.8" fill="#1279d6" text-anchor="start" font-weight="bold" font-family="'Liberation Serif', 'Noto Serif CJK SC', serif" font-style="normal" dominant-baseline="central">1.5</text>
<line x1="398.6" y1="408.12" x2="401.1" y2="408.12" stroke="#3b8fe0" stroke-width="0.8"/>
<text x="403.4" y="407.73" font-size="6.8" fill="#1279d6" text-anchor="start" font-weight="bold" font-family="'Liberation Serif', 'Noto Serif CJK SC', serif" font-style="normal" dominant-baseline="central">2.0</text>
<line x1="398.6" y1="391.85" x2="401.1" y2="391.85" stroke="#3b8fe0" stroke-width="0.8"/>
<text x="403.4" y="391.45" font-size="6.8" fill="#1279d6" text-anchor="start" font-weight="bold" font-family="'Liberation Serif', 'Noto Serif CJK SC', serif" font-style="normal" dominant-baseline="central">2.5</text>
<line x1="398.6" y1="375.58" x2="401.1" y2="375.58" stroke="#3b8fe0" stroke-width="0.8"/>
<text x="403.4" y="375.18" font-size="6.8" fill="#1279d6" text-anchor="start" font-weight="bold" font-family="'Liberation Serif', 'Noto Serif CJK SC', serif" font-style="normal" dominant-baseline="central">3.0</text>
<line x1="398.6" y1="359.3" x2="401.1" y2="359.3" stroke="#3b8fe0" stroke-width="0.8"/>
<text x="403.4" y="358.9" font-size="6.8" fill="#1279d6" text-anchor="start" font-weight="bold" font-family="'Liberation Serif', 'Noto Serif CJK SC', serif" font-style="normal" dominant-baseline="central">3.5</text>
<line x1="398.6" y1="481.36" x2="400.1" y2="481.36" stroke="#3b8fe0" stroke-width="0.7"/>
<line x1="398.6" y1="465.09" x2="400.1" y2="465.09" stroke="#3b8fe0" stroke-width="0.7"/>
<line x1="398.6" y1="448.81" x2="400.1" y2="448.81" stroke="#3b8fe0" stroke-width="0.7"/>
<line x1="398.6" y1="432.54" x2="400.1" y2="432.54" stroke="#3b8fe0" stroke-width="0.7"/>
<line x1="398.6" y1="416.26" x2="400.1" y2="416.26" stroke="#3b8fe0" stroke-width="0.7"/>
<line x1="398.6" y1="399.99" x2="400.1" y2="399.99" stroke="#3b8fe0" stroke-width="0.7"/>
<line x1="398.6" y1="383.71" x2="400.1" y2="383.71" stroke="#3b8fe0" stroke-width="0.7"/>
<line x1="398.6" y1="367.44" x2="400.1" y2="367.44" stroke="#3b8fe0" stroke-width="0.7"/>
<line x1="398.6" y1="351.16" x2="400.1" y2="351.16" stroke="#3b8fe0" stroke-width="0.7"/>
<text x="146.8" y="419.75" font-size="8.2" fill="#2a2a2a" text-anchor="middle" font-weight="normal" font-family="'Liberation Serif', 'Noto Serif CJK SC', serif" font-style="normal" dominant-baseline="central" transform="rotate(-90 146.8 419.75)" stroke="#2a2a2a" stroke-width="0.2">Temperature/°C</text>
<text x="392.5" y="420.45" font-size="7.5" fill="#ff3333" text-anchor="middle" font-weight="bold" font-family="'Liberation Serif', 'Noto Serif CJK SC', serif" font-style="normal" dominant-baseline="central" transform="rotate(-90 392.5 420.45)">Pressure/KPa</text>
<text x="419.6" y="420.45" font-size="7.5" fill="#1279d6" text-anchor="middle" font-weight="bold" font-family="'Liberation Serif', 'Noto Serif CJK SC', serif" font-style="normal" dominant-baseline="central" transform="rotate(-90 419.6 420.45)">Volt/V</text>
<text x="257.3" y="504.9" font-size="7.9" fill="#222" text-anchor="start" font-weight="bold" font-family="'Liberation Serif', 'Noto Serif CJK SC', serif" font-style="normal" dominant-baseline="central">Time（s）</text>
<path d="M42.9,135.6 C43.42,135.05 44.43,133.4 46,132.3 C47.57,131.2 49.22,130.3 52.3,129 C55.38,127.7 58.37,126.07 64.5,124.5 C70.63,122.93 81.32,120.98 89.1,119.6 C96.88,118.22 103.02,117.1 111.2,116.2 C119.38,115.3 128.8,114.8 138.2,114.2 C147.6,113.6 162.7,112.87 167.6,112.6" fill="none" stroke="#3c3c3c" stroke-width="1.5" stroke-linejoin="round" stroke-linecap="butt"/>
<path d="M167.6,112.6 C168.05,107.33 169.42,90.77 170.3,81 C171.18,71.23 171.9,60.5 172.9,54 C173.9,47.5 175.2,45 176.3,42 C177.4,39 178.22,37.63 179.5,36 C180.78,34.37 181.97,33.22 184,32.2 C186.03,31.18 188.38,30.1 191.7,29.9 C195.02,29.7 199.1,30.3 203.9,31 C208.7,31.7 217.73,33.58 220.5,34.1" fill="none" stroke="#3c3c3c" stroke-width="1.5" stroke-linejoin="round" stroke-linecap="butt"/>
<path d="M42.9,136.8 L168,133.9" fill="none" stroke="#ff3333" stroke-width="1.6" stroke-linejoin="round" stroke-linecap="butt"/>
<path d="M168,133.9 C169.5,120 170.7,40 171.8,37.6 C173,40 173.6,58 174.5,66 C175.5,74 176.5,78 178.5,81.5 C180.5,84.5 184,86.3 189.3,87.1 L220.5,88.3" fill="none" stroke="#ff3333" stroke-width="1.6" stroke-linejoin="round" stroke-linecap="butt"/>
<path d="M43.2,38.8 L168.5,38.8 L168.5,139.6 L220.5,139.6" fill="none" stroke="#1279d6" stroke-width="1.6" stroke-linejoin="round" stroke-linecap="butt"/>
<path d="M314.4,135.9 C314.83,135.58 315.68,134.7 317,134 C318.32,133.3 319.38,132.7 322.3,131.7 C325.22,130.7 328.37,129.3 334.5,128 C340.63,126.7 350.92,125.2 359.1,123.9 C367.28,122.6 375.42,121.35 383.6,120.2 C391.78,119.05 398.68,117.97 408.2,117 C417.72,116.03 435.28,114.83 440.7,114.4" fill="none" stroke="#3c3c3c" stroke-width="1.5" stroke-linejoin="round" stroke-linecap="butt"/>
<path d="M440.7,114.4 C440.82,108.42 441.07,88.3 441.4,78.5 C441.73,68.7 442.07,62.17 442.7,55.6 C443.33,49.03 443.93,43.53 445.2,39.1 C446.47,34.67 448.18,31.23 450.3,29 C452.42,26.77 455.37,26.28 457.9,25.7 C460.43,25.12 462.53,25.25 465.5,25.5 C468.47,25.75 472.32,26.2 475.7,27.2 C479.08,28.2 484.12,30.78 485.8,31.5" fill="none" stroke="#3c3c3c" stroke-width="1.5" stroke-linejoin="round" stroke-linecap="butt"/>
<path d="M314.4,135.9 L440.7,134.4" fill="none" stroke="#ff3333" stroke-width="1.6" stroke-linejoin="round" stroke-linecap="butt"/>
<path d="M440.7,134.4 C441.6,110 442,40 442.7,34 C443.5,40 444,55 444.7,65.8 C445.3,75 445.8,80 446.5,83.5 C447.5,90 448.5,94 450.3,96.2 C452.5,99.5 455,101.8 457.9,102.6 C465,104.2 475,104.8 485.8,105.1" fill="none" stroke="#ff3333" stroke-width="1.6" stroke-linejoin="round" stroke-linecap="butt"/>
<path d="M314.6,36.5 L440.9,36.5 L440.9,139.2 L485.8,139.2" fill="none" stroke="#1279d6" stroke-width="1.6" stroke-linejoin="round" stroke-linecap="butt"/>
<path d="M44,302.4 C44.67,302.1 46.12,301.22 48,300.6 C49.88,299.98 51.55,299.65 55.3,298.7 C59.05,297.75 64.57,295.97 70.5,294.9 C76.43,293.83 83.27,293.12 90.9,292.3 C98.53,291.48 107.82,290.72 116.3,290 C124.78,289.28 132.62,288.65 141.8,288 C150.98,287.35 166.47,286.42 171.4,286.1" fill="none" stroke="#3c3c3c" stroke-width="1.5" stroke-linejoin="round" stroke-linecap="butt"/>
<path d="M171.4,286.1 C171.73,280.92 172.92,263.52 173.4,255 C173.88,246.48 174,240.83 174.3,235 C174.6,229.17 174.75,224.67 175.2,220 C175.65,215.33 176.15,210.4 177,207 C177.85,203.6 178.9,201.17 180.3,199.6 C181.7,198.03 183.28,197.83 185.4,197.6 C187.52,197.37 189.73,197.47 193,198.2 C196.27,198.93 200.85,200.6 205,202 C209.15,203.4 215.75,205.83 217.9,206.6" fill="none" stroke="#3c3c3c" stroke-width="1.5" stroke-linejoin="round" stroke-linecap="butt"/>
<path d="M43.1,302.2 L171.4,301.3" fill="none" stroke="#ff3333" stroke-width="1.6" stroke-linejoin="round" stroke-linecap="butt"/>
<path d="M171.4,301.3 L173.3,301.3 L173.5,201 L174.1,200.3 C174.6,205 174.9,218 175.4,229 C176,240 176.8,249 177.7,254.5 C178.8,260 180.3,264 182.6,266.2 C184.5,267.8 186,268.5 189,268.9 C196,269.8 205,270 217.9,270.1" fill="none" stroke="#ff3333" stroke-width="1.6" stroke-linejoin="round" stroke-linecap="butt"/>
<path d="M43.4,203.4 L172.6,203.4 L172.6,303.4 L217.9,303.4" fill="none" stroke="#1279d6" stroke-width="1.6" stroke-linejoin="round" stroke-linecap="butt"/>
<path d="M314.6,297.9 L450.5,296.6" fill="none" stroke="#3c3c3c" stroke-width="1.5" stroke-linejoin="round" stroke-linecap="butt"/>
<path d="M450.5,296.6 C450.58,293.67 450.65,283.03 451,279 C451.35,274.97 452.15,276.57 452.6,272.4 C453.05,268.23 453.17,260.15 453.7,254 C454.23,247.85 455.02,241.65 455.8,235.5 C456.58,229.35 457.53,223.02 458.4,217.1 C459.27,211.18 460.12,204.38 461,200 C461.88,195.62 462.82,192.87 463.7,190.8 C464.58,188.73 465.2,188.18 466.3,187.6 C467.4,187.02 468.55,186.98 470.3,187.3 C472.05,187.62 474.4,188.57 476.8,189.5 C479.2,190.43 483.38,192.33 484.7,192.9" fill="none" stroke="#3c3c3c" stroke-width="1.5" stroke-linejoin="round" stroke-linecap="butt"/>
<path d="M314.6,302.7 L450.5,301.8" fill="none" stroke="#ff3333" stroke-width="1.6" stroke-linejoin="round" stroke-linecap="butt"/>
<path d="M450.5,301.8 L450.9,183.5 L451.2,183 C451.5,190 451.6,195 451.8,201.3 C452.3,215 452.7,222 453.2,227.6 C453.8,235 454.5,240 455.3,243.4 C456.3,248 457.2,250.5 458.4,252.6 C460,255.5 461.8,257.7 463.7,259.2 C466.5,261 469,262 471.6,262.6 C476,263.5 480,264 484.7,264.5" fill="none" stroke="#ff3333" stroke-width="1.6" stroke-linejoin="round" stroke-linecap="butt"/>
<path d="M314.6,189.3 L450.3,189.3 L450.3,303.2 L484.7,303.2" fill="none" stroke="#1279d6" stroke-width="1.6" stroke-linejoin="round" stroke-linecap="butt"/>
<path d="M166.8,474.9 C167.25,473.63 168.43,469.78 169.5,467.3 C170.57,464.82 171.83,461.97 173.2,460 C174.57,458.03 176.03,456.95 177.7,455.5 C179.37,454.05 181.38,452.82 183.2,451.3 C185.02,449.78 186.78,448.03 188.6,446.4 C190.42,444.77 191.97,442.72 194.1,441.5 C196.23,440.28 198.37,439.95 201.4,439.1 C204.43,438.25 208.37,437.32 212.3,436.4 C216.23,435.48 221.37,434.58 225,433.6 C228.63,432.62 230.68,432 234.1,430.5 C237.52,429 243.6,425.58 245.5,424.6" fill="none" stroke="#3c3c3c" stroke-width="1.4" stroke-linejoin="round" stroke-linecap="butt"/>
<path d="M245.5,424.6 L248.8,426.2 L250.5,425.6" fill="none" stroke="#3c3c3c" stroke-width="1.4" stroke-linejoin="round" stroke-linecap="butt"/>
<path d="M250.5,425.6 C251.85,425.08 254.33,423.78 258.6,422.5 C262.87,421.22 270.45,419.47 276.1,417.9 C281.75,416.33 289.77,413.9 292.5,413.1" fill="none" stroke="#3c3c3c" stroke-width="1.4" stroke-linejoin="round" stroke-linecap="butt"/>
<path d="M292.5,413.1 L294.6,413.3 L296.8,416.4 L299,415.6 L301.2,414.8 L303.2,413.2 L304.5,419.2 L306.6,420.1 L309,419 L311,417.6 L313,415.8 L314.8,413.5" fill="none" stroke="#3c3c3c" stroke-width="1.4" stroke-linejoin="round" stroke-linecap="butt"/>
<path d="M314.8,413.5 C315.2,411.77 316.42,405.87 317.2,403.1 C317.98,400.33 318.72,398.98 319.5,396.9 C320.28,394.82 321.25,392.68 321.9,390.6 C322.55,388.52 322.88,386.73 323.4,384.4 C323.92,382.07 324.35,378.68 325,376.6 C325.65,374.52 326.26,373.08 327.3,371.9 C328.34,370.72 329.55,370.02 331.25,369.5 C332.95,368.98 334.38,368.8 337.5,368.8 C340.62,368.8 345.18,368.98 350,369.5 C354.82,370.02 363.67,371.5 366.4,371.9" fill="none" stroke="#3c3c3c" stroke-width="1.4" stroke-linejoin="round" stroke-linecap="butt"/>
<path d="M166.8,475.6 L172.3,476 L293.3,464.4 L293.6,450.6" fill="none" stroke="#ff3333" stroke-width="1.6" stroke-linejoin="round" stroke-linecap="butt"/>
<path d="M293.6,450.6 C294.5,451.5 295,452.5 296,453.2 C297.5,454.2 299,454.6 301,454.7 C304,454.8 308,454.5 311.5,453.8 C313.2,453.2 314.2,452.2 314.8,450 L316.2,425 L317,412 L317.6,409.5 L318.4,411.8 L320,398.4 L321.9,381.3 L323.1,367.2 L323.9,363.6 L325,370.3 L326.3,378.9 C327,380.5 327.6,381 328.4,381.3 C330.5,382.1 333,382.5 336,382.6 C345,383 355,383.6 366.4,384.1" fill="none" stroke="#ff3333" stroke-width="1.6" stroke-linejoin="round" stroke-linecap="butt"/>
<path d="M166.6,364.9 L315.6,365.1 L316,380.5 L316.3,366 L316.7,378 L317,366.2 L318.4,366.5 L320,373.4 L321.5,390 L322.6,410 L322.6,473.2 L366.7,473.2" fill="none" stroke="#1279d6" stroke-width="1.6" stroke-linejoin="round" stroke-linecap="butt"/>
<line x1="294.3" y1="352.5" x2="294.3" y2="490" stroke="#9a5fd0" stroke-width="0.9" stroke-dasharray="5,1.6,1,1.6"/>
<line x1="315.6" y1="352.5" x2="315.6" y2="492.5" stroke="#9a5fd0" stroke-width="0.9" stroke-dasharray="5,1.6,1,1.6"/>
<path d="M281.5,442.3 L293.8,448.4 L315.6,448.4" fill="none" stroke="#8e44ce" stroke-width="0.8" stroke-linejoin="round" stroke-linecap="butt"/>
<rect x="44.9" y="25.6" width="66.8" height="8.8" fill="#c8c8c8"/>
<rect x="44.1" y="24.8" width="66.8" height="8.8" fill="#fff" stroke="#dddddd" stroke-width="0.6"/>
<text x="52" y="29.6" font-size="7.7" fill="#7030a0" text-anchor="start" font-weight="bold" font-family="'Liberation Serif', 'Noto Serif CJK SC', serif" font-style="normal" dominant-baseline="central" stroke="#7030a0" stroke-width="0.12" textLength="52" lengthAdjust="spacingAndGlyphs">NCM523 battery</text>
<rect x="313.1" y="23.1" width="64.7" height="9.4" fill="#c8c8c8"/>
<rect x="312.3" y="22.3" width="64.7" height="9.4" fill="#fff" stroke="#dddddd" stroke-width="0.6"/>
<text x="317.8" y="27.2" font-size="7.7" fill="#7030a0" text-anchor="start" font-weight="bold" font-family="'Liberation Serif', 'Noto Serif CJK SC', serif" font-style="normal" dominant-baseline="central" stroke="#7030a0" stroke-width="0.12" textLength="54.2" lengthAdjust="spacingAndGlyphs">NCM622 battery</text>
<rect x="47.3" y="189.1" width="66.2" height="9.7" fill="#c8c8c8"/>
<rect x="46.5" y="188.3" width="66.2" height="9.7" fill="#fff" stroke="#dddddd" stroke-width="0.6"/>
<text x="54.5" y="193.3" font-size="7.7" fill="#7030a0" text-anchor="start" font-weight="bold" font-family="'Liberation Serif', 'Noto Serif CJK SC', serif" font-style="normal" dominant-baseline="central" stroke="#7030a0" stroke-width="0.12" textLength="51.8" lengthAdjust="spacingAndGlyphs">NCM811 battery</text>
<rect x="309" y="230.8" width="87.3" height="9.1" fill="#c8c8c8"/>
<rect x="308.2" y="230" width="87.3" height="9.1" fill="#fff" stroke="#dddddd" stroke-width="0.6"/>
<text x="318.2" y="234.7" font-size="7.7" fill="#7030a0" text-anchor="start" font-weight="bold" font-family="'Liberation Serif', 'Noto Serif CJK SC', serif" font-style="normal" dominant-baseline="central" stroke="#7030a0" stroke-width="0.12" textLength="67.8" lengthAdjust="spacingAndGlyphs">NCM9 0.5 0.5 battery</text>
<rect x="176" y="354.9" width="50.2" height="8.2" fill="#c8c8c8"/>
<rect x="175.2" y="354.1" width="50.2" height="8.2" fill="#fff" stroke="#dddddd" stroke-width="0.6"/>
<text x="180.3" y="358" font-size="8" fill="#7030a0" text-anchor="start" font-weight="bold" font-family="'Liberation Serif', 'Noto Serif CJK SC', serif" font-style="normal" dominant-baseline="central" stroke="#7030a0" stroke-width="0.12" textLength="41.2" lengthAdjust="spacingAndGlyphs">LFP battery</text>
<line x1="47" y1="57" x2="61.5" y2="57" stroke="#4a4a4a" stroke-width="1.6"/>
<text x="62.5" y="57" font-size="6.3" fill="#1a1a1a" text-anchor="start" font-weight="bold" font-family="'Liberation Serif', 'Noto Serif CJK SC', serif" font-style="normal" dominant-baseline="central" stroke="#1a1a1a" stroke-width="0.26">Temperature/°C</text>
<line x1="47" y1="64.6" x2="61.5" y2="64.6" stroke="#ff3a3a" stroke-width="1.6"/>
<text x="62.5" y="64.6" font-size="6.3" fill="#1a1a1a" text-anchor="start" font-weight="bold" font-family="'Liberation Serif', 'Noto Serif CJK SC', serif" font-style="normal" dominant-baseline="central" stroke="#1a1a1a" stroke-width="0.26">Pressure/KPa</text>
<line x1="47" y1="72.3" x2="61.5" y2="72.3" stroke="#1279d6" stroke-width="1.6"/>
<text x="62.5" y="72.3" font-size="6.3" fill="#1a1a1a" text-anchor="start" font-weight="bold" font-family="'Liberation Serif', 'Noto Serif CJK SC', serif" font-style="normal" dominant-baseline="central" stroke="#1a1a1a" stroke-width="0.26">Volt/V</text>
<line x1="317" y1="49.9" x2="331.6" y2="49.9" stroke="#4a4a4a" stroke-width="1.6"/>
<text x="332.6" y="49.9" font-size="6.3" fill="#1a1a1a" text-anchor="start" font-weight="bold" font-family="'Liberation Serif', 'Noto Serif CJK SC', serif" font-style="normal" dominant-baseline="central" stroke="#1a1a1a" stroke-width="0.26">Temperature/°C</text>
<line x1="317" y1="57.6" x2="331.6" y2="57.6" stroke="#ff3a3a" stroke-width="1.6"/>
<text x="332.6" y="57.6" font-size="6.3" fill="#1a1a1a" text-anchor="start" font-weight="bold" font-family="'Liberation Serif', 'Noto Serif CJK SC', serif" font-style="normal" dominant-baseline="central" stroke="#1a1a1a" stroke-width="0.26">Pressure/KPa</text>
<line x1="317" y1="65.4" x2="331.6" y2="65.4" stroke="#1279d6" stroke-width="1.6"/>
<text x="332.6" y="65.4" font-size="6.3" fill="#1a1a1a" text-anchor="start" font-weight="bold" font-family="'Liberation Serif', 'Noto Serif CJK SC', serif" font-style="normal" dominant-baseline="central" stroke="#1a1a1a" stroke-width="0.26">Volt（V）</text>
<line x1="43.4" y1="212.7" x2="57.6" y2="212.7" stroke="#4a4a4a" stroke-width="1.6"/>
<text x="58.6" y="212.7" font-size="6.3" fill="#1a1a1a" text-anchor="start" font-weight="bold" font-family="'Liberation Serif', 'Noto Serif CJK SC', serif" font-style="normal" dominant-baseline="central" stroke="#1a1a1a" stroke-width="0.26">Temperature/°C</text>
<line x1="43.4" y1="221" x2="57.6" y2="221" stroke="#ff3a3a" stroke-width="1.6"/>
<text x="58.6" y="221" font-size="6.3" fill="#1a1a1a" text-anchor="start" font-weight="bold" font-family="'Liberation Serif', 'Noto Serif CJK SC', serif" font-style="normal" dominant-baseline="central" stroke="#1a1a1a" stroke-width="0.26">Pressure/KPa</text>
<line x1="43.4" y1="228.4" x2="57.6" y2="228.4" stroke="#1279d6" stroke-width="1.6"/>
<text x="58.6" y="228.4" font-size="6.3" fill="#1a1a1a" text-anchor="start" font-weight="bold" font-family="'Liberation Serif', 'Noto Serif CJK SC', serif" font-style="normal" dominant-baseline="central" stroke="#1a1a1a" stroke-width="0.26">Volt/V</text>
<line x1="314.6" y1="203.2" x2="329.7" y2="203.2" stroke="#4a4a4a" stroke-width="1.6"/>
<text x="331" y="203.2" font-size="6.3" fill="#1a1a1a" text-anchor="start" font-weight="bold" font-family="'Liberation Serif', 'Noto Serif CJK SC', serif" font-style="normal" dominant-baseline="central" stroke="#1a1a1a" stroke-width="0.26">Temperature/°C</text>
<line x1="314.6" y1="211" x2="329.7" y2="211" stroke="#ff3a3a" stroke-width="1.6"/>
<text x="331" y="211" font-size="6.3" fill="#1a1a1a" text-anchor="start" font-weight="bold" font-family="'Liberation Serif', 'Noto Serif CJK SC', serif" font-style="normal" dominant-baseline="central" stroke="#1a1a1a" stroke-width="0.26">Pressure/KPa</text>
<line x1="314.6" y1="218.8" x2="329.7" y2="218.8" stroke="#1279d6" stroke-width="1.6"/>
<text x="331" y="218.8" font-size="6.3" fill="#1a1a1a" text-anchor="start" font-weight="bold" font-family="'Liberation Serif', 'Noto Serif CJK SC', serif" font-style="normal" dominant-baseline="central" stroke="#1a1a1a" stroke-width="0.26">Volt/V</text>
<line x1="175" y1="379.3" x2="189.4" y2="379.3" stroke="#4a4a4a" stroke-width="1.6"/>
<text x="191.4" y="379.3" font-size="6.5" fill="#1a1a1a" text-anchor="start" font-weight="bold" font-family="'Liberation Serif', 'Noto Serif CJK SC', serif" font-style="normal" dominant-baseline="central" stroke="#1a1a1a" stroke-width="0.26">Temperature/°C</text>
<line x1="175" y1="387.2" x2="189.4" y2="387.2" stroke="#ff3a3a" stroke-width="1.6"/>
<text x="191.4" y="387.2" font-size="6.5" fill="#1a1a1a" text-anchor="start" font-weight="bold" font-family="'Liberation Serif', 'Noto Serif CJK SC', serif" font-style="normal" dominant-baseline="central" stroke="#1a1a1a" stroke-width="0.26">Pressure/KPa</text>
<line x1="175" y1="394.9" x2="189.4" y2="394.9" stroke="#1279d6" stroke-width="1.6"/>
<text x="191.4" y="394.9" font-size="6.5" fill="#1a1a1a" text-anchor="start" font-weight="bold" font-family="'Liberation Serif', 'Noto Serif CJK SC', serif" font-style="normal" dominant-baseline="central" stroke="#1a1a1a" stroke-width="0.26">Volt/V</text>
<text x="122.9" y="30.6" font-size="6.8" fill="#ff3333" font-weight="bold" font-family="'Liberation Serif', 'Noto Serif CJK SC', serif" dominant-baseline="central" stroke="#ff3333" stroke-width="0.3" textLength="50" lengthAdjust="spacingAndGlyphs"><tspan font-style="italic">P</tspan><tspan font-style="italic" font-size="4.9" dy="1.9">max</tspan><tspan dy="-1.9"> = 185.2KPa</tspan></text>
<text x="174.2" y="24.8" font-size="7" fill="#222" font-weight="bold" font-family="'Liberation Serif', 'Noto Serif CJK SC', serif" dominant-baseline="central" stroke="#222" stroke-width="0.3"><tspan font-style="italic">T</tspan><tspan font-style="italic" font-size="5.04" dy="1.9">max</tspan><tspan dy="-1.9"> = 549.27°C</tspan></text>
<text x="382.6" y="27.5" font-size="7.1" fill="#ff3333" font-weight="bold" font-family="'Liberation Serif', 'Noto Serif CJK SC', serif" dominant-baseline="central" stroke="#ff3333" stroke-width="0.3" textLength="55.6" lengthAdjust="spacingAndGlyphs"><tspan font-style="italic">P</tspan><tspan font-style="italic" font-size="5.11" dy="1.9">max</tspan><tspan dy="-1.9"> = 160.93KPa</tspan></text>
<text x="445.7" y="22.8" font-size="7" fill="#222" font-weight="bold" font-family="'Liberation Serif', 'Noto Serif CJK SC', serif" dominant-baseline="central" stroke="#222" stroke-width="0.3"><tspan font-style="italic">T</tspan><tspan font-style="italic" font-size="5.04" dy="1.9">max</tspan><tspan dy="-1.9"> = 597.1°C</tspan></text>
<text x="117.6" y="194" font-size="6.8" fill="#ff3333" font-weight="bold" font-family="'Liberation Serif', 'Noto Serif CJK SC', serif" dominant-baseline="central" stroke="#ff3333" stroke-width="0.3" textLength="52.6" lengthAdjust="spacingAndGlyphs"><tspan font-style="italic">P</tspan><tspan font-style="italic" font-size="4.9" dy="1.9">max</tspan><tspan dy="-1.9"> = 221.47KPa</tspan></text>
<text x="176.9" y="191.8" font-size="6.9" fill="#222" font-weight="bold" font-family="'Liberation Serif', 'Noto Serif CJK SC', serif" dominant-baseline="central" stroke="#222" stroke-width="0.3" textLength="43.4" lengthAdjust="spacingAndGlyphs"><tspan font-style="italic">T</tspan><tspan font-style="italic" font-size="4.97" dy="1.9">max</tspan><tspan dy="-1.9"> = 762.8°C</tspan></text>
<text x="381" y="184.6" font-size="6.8" fill="#ff3333" font-weight="bold" font-family="'Liberation Serif', 'Noto Serif CJK SC', serif" dominant-baseline="central" stroke="#ff3333" stroke-width="0.3" textLength="54.4" lengthAdjust="spacingAndGlyphs"><tspan font-style="italic">P</tspan><tspan font-style="italic" font-size="4.9" dy="1.9">max</tspan><tspan dy="-1.9"> = 391.02KPa</tspan></text>
<text x="452.7" y="185.1" font-size="7" fill="#222" font-weight="bold" font-family="'Liberation Serif', 'Noto Serif CJK SC', serif" dominant-baseline="central" stroke="#222" stroke-width="0.3"><tspan font-style="italic">T</tspan><tspan font-style="italic" font-size="5.04" dy="1.9">max</tspan><tspan dy="-1.9"> = 842.1°C</tspan></text>
<text x="246.9" y="359.3" font-size="7.6" fill="#ff3333" font-weight="bold" font-family="'Liberation Serif', 'Noto Serif CJK SC', serif" dominant-baseline="central" stroke="#ff3333" stroke-width="0.3"><tspan font-style="italic">P</tspan><tspan font-style="italic" font-size="5.47" dy="1.9">max</tspan><tspan dy="-1.9"> = 133.73KPa</tspan></text>
<text x="317.2" y="358.8" font-size="7.6" fill="#222" font-weight="bold" font-family="'Liberation Serif', 'Noto Serif CJK SC', serif" dominant-baseline="central" stroke="#222" stroke-width="0.3"><tspan font-style="italic">T</tspan><tspan font-style="italic" font-size="5.47" dy="1.9">max</tspan><tspan dy="-1.9"> = 302.13°C</tspan></text>
<text x="71.6" y="101" font-size="12.4" fill="#111" text-anchor="start" font-weight="bold" font-family="'Liberation Sans', 'Noto Sans CJK SC', sans-serif" font-style="normal" dominant-baseline="central">(a)</text>
<text x="335.3" y="100.9" font-size="12.4" fill="#111" text-anchor="start" font-weight="bold" font-family="'Liberation Sans', 'Noto Sans CJK SC', sans-serif" font-style="normal" dominant-baseline="central">(b)</text>
<text x="71.5" y="262" font-size="12.4" fill="#111" text-anchor="start" font-weight="bold" font-family="'Liberation Sans', 'Noto Sans CJK SC', sans-serif" font-style="normal" dominant-baseline="central">(c)</text>
<text x="335.2" y="261.8" font-size="12.4" fill="#111" text-anchor="start" font-weight="bold" font-family="'Liberation Sans', 'Noto Sans CJK SC', sans-serif" font-style="normal" dominant-baseline="central">(d)</text>
<text x="204" y="418.8" font-size="11" fill="#111" text-anchor="start" font-weight="bold" font-family="'Liberation Serif', 'Noto Serif CJK SC', serif" font-style="normal" dominant-baseline="central">(e)</text>
<text x="217.4" y="438.6" font-size="3.6" fill="#222" text-anchor="start" font-weight="normal" font-family="'Liberation Sans', 'Noto Sans CJK SC', sans-serif" font-style="normal" dominant-baseline="central" stroke="#222" stroke-width="0.12">Safety valve opens, gas production begins, no</text>
<text x="239.4" y="443.2" font-size="3.6" fill="#222" text-anchor="start" font-weight="normal" font-family="'Liberation Sans', 'Noto Sans CJK SC', sans-serif" font-style="normal" dominant-baseline="central" stroke="#222" stroke-width="0.12">thermal runaway</text>
</svg>
</body></html>
